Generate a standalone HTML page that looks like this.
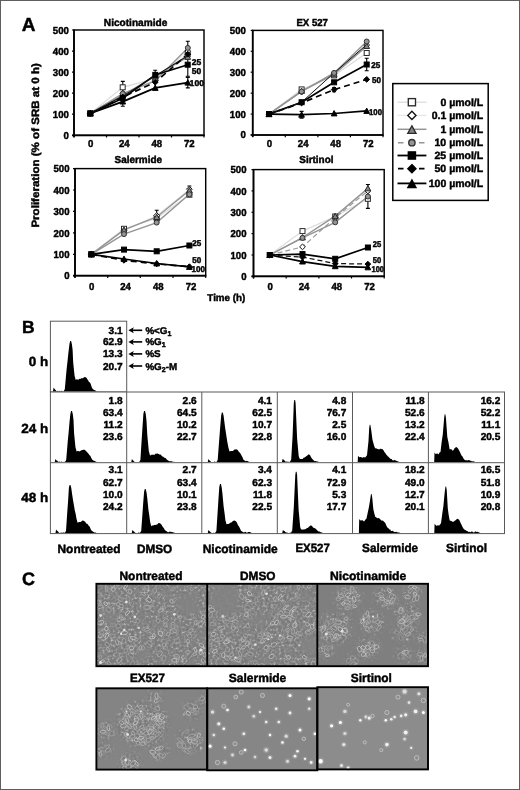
<!DOCTYPE html>
<html lang="en"><head><meta charset="utf-8"><title>Figure</title>
<style>html,body{margin:0;padding:0;background:#fff}svg{display:block}</style></head>
<body>
<svg width="520" height="790" viewBox="0 0 520 790" font-family="Liberation Sans, Arial, sans-serif" font-weight="bold" text-rendering="geometricPrecision" fill="#000">
<rect x="0" y="0" width="520" height="790" fill="#fff"/>
<rect x="74.0" y="30.0" width="130.0" height="105.3" fill="#fff" stroke="#000" stroke-width="1.45"/>
<line x1="74.0" y1="29.5" x2="74.0" y2="137.3" stroke="#000" stroke-width="1.7"/>
<line x1="72.0" y1="135.3" x2="204.5" y2="135.3" stroke="#000" stroke-width="1.7"/>
<line x1="72.0" y1="135.3" x2="74.0" y2="135.3" stroke="#000" stroke-width="1.2"/>
<text transform="translate(68.8,139.4) scale(0.95,1)" font-size="10.1" text-anchor="end" stroke="#000" stroke-width="0.45" >0</text>
<line x1="72.0" y1="114.2" x2="74.0" y2="114.2" stroke="#000" stroke-width="1.2"/>
<text transform="translate(68.8,118.3) scale(0.95,1)" font-size="10.1" text-anchor="end" stroke="#000" stroke-width="0.45" >100</text>
<line x1="72.0" y1="93.2" x2="74.0" y2="93.2" stroke="#000" stroke-width="1.2"/>
<text transform="translate(68.8,97.3) scale(0.95,1)" font-size="10.1" text-anchor="end" stroke="#000" stroke-width="0.45" >200</text>
<line x1="72.0" y1="72.1" x2="74.0" y2="72.1" stroke="#000" stroke-width="1.2"/>
<text transform="translate(68.8,76.2) scale(0.95,1)" font-size="10.1" text-anchor="end" stroke="#000" stroke-width="0.45" >300</text>
<line x1="72.0" y1="51.1" x2="74.0" y2="51.1" stroke="#000" stroke-width="1.2"/>
<text transform="translate(68.8,55.2) scale(0.95,1)" font-size="10.1" text-anchor="end" stroke="#000" stroke-width="0.45" >400</text>
<line x1="72.0" y1="30.0" x2="74.0" y2="30.0" stroke="#000" stroke-width="1.2"/>
<text transform="translate(68.8,34.1) scale(0.95,1)" font-size="10.1" text-anchor="end" stroke="#000" stroke-width="0.45" >500</text>
<line x1="74.0" y1="135.3" x2="74.0" y2="137.5" stroke="#000" stroke-width="1.2"/>
<line x1="106.5" y1="135.3" x2="106.5" y2="137.5" stroke="#000" stroke-width="1.2"/>
<line x1="139.0" y1="135.3" x2="139.0" y2="137.5" stroke="#000" stroke-width="1.2"/>
<line x1="171.5" y1="135.3" x2="171.5" y2="137.5" stroke="#000" stroke-width="1.2"/>
<line x1="204.0" y1="135.3" x2="204.0" y2="137.5" stroke="#000" stroke-width="1.2"/>
<text transform="translate(90.7,146.8) scale(0.95,1)" font-size="10.1" text-anchor="middle" stroke="#000" stroke-width="0.45" >0</text>
<text transform="translate(124.3,146.8) scale(0.95,1)" font-size="10.1" text-anchor="middle" stroke="#000" stroke-width="0.45" >24</text>
<text transform="translate(156.8,146.8) scale(0.95,1)" font-size="10.1" text-anchor="middle" stroke="#000" stroke-width="0.45" >48</text>
<text transform="translate(189.3,146.8) scale(0.95,1)" font-size="10.1" text-anchor="middle" stroke="#000" stroke-width="0.45" >72</text>
<text x="135.6" y="26.0" font-size="10.1" text-anchor="middle" textLength="63.5" lengthAdjust="spacingAndGlyphs" stroke="#000" stroke-width="0.45" >Nicotinamide</text>
<polyline points="90.2,113.4 122.8,87.3 155.2,78.4 187.8,54.2" fill="none" stroke="#dcdcdc" stroke-width="1.2"/>
<polyline points="90.2,113.4 122.8,93.2 155.2,80.1 187.8,51.1" fill="none" stroke="#e4e4e4" stroke-width="1.0"/>
<polyline points="90.2,113.4 122.8,95.3 155.2,75.9 187.8,57.0" fill="none" stroke="#949494" stroke-width="1.4"/>
<polyline points="90.2,113.4 122.8,93.6 155.2,81.0 187.8,47.9" fill="none" stroke="#949494" stroke-width="1.4"/>
<polyline points="90.2,113.4 122.8,98.2 155.2,74.9 187.8,64.7" fill="none" stroke="#000" stroke-width="1.7"/>
<polyline points="90.2,113.4 122.8,97.0 155.2,82.2 187.8,54.2" fill="none" stroke="#000" stroke-width="1.7" stroke-dasharray="6,4"/>
<polyline points="90.2,113.4 122.8,101.6 155.2,87.9 187.8,82.7" fill="none" stroke="#000" stroke-width="1.7"/>
<polyline points="90.2,113.4 122.8,96.1 155.2,75.9 187.8,55.7" fill="none" stroke="#111" stroke-width="1.1"/>
<path d="M122.8,81.4V93.2M120.8,81.4H124.8M120.8,93.2H124.8" stroke="#000" stroke-width="1.1" fill="none"/>
<path d="M122.8,97.0V106.2M120.8,97.0H124.8M120.8,106.2H124.8" stroke="#000" stroke-width="1.1" fill="none"/>
<path d="M155.2,70.2V79.5M153.2,70.2H157.2M153.2,79.5H157.2" stroke="#000" stroke-width="1.1" fill="none"/>
<path d="M187.8,41.2V54.6M185.8,41.2H189.8M185.8,54.6H189.8" stroke="#000" stroke-width="1.1" fill="none"/>
<path d="M187.8,53.2V76.3M185.8,53.2H189.8M185.8,76.3H189.8" stroke="#000" stroke-width="1.1" fill="none"/>
<path d="M187.8,77.4V87.9M185.8,77.4H189.8M185.8,87.9H189.8" stroke="#000" stroke-width="1.1" fill="none"/>
<rect x="87.8" y="110.9" width="5.0" height="5.0" fill="#ffffff" stroke="#2a2a2a" stroke-width="1.0"/>
<rect x="120.2" y="84.8" width="5.0" height="5.0" fill="#ffffff" stroke="#2a2a2a" stroke-width="1.0"/>
<rect x="152.8" y="75.9" width="5.0" height="5.0" fill="#ffffff" stroke="#2a2a2a" stroke-width="1.0"/>
<rect x="185.2" y="51.7" width="5.0" height="5.0" fill="#ffffff" stroke="#2a2a2a" stroke-width="1.0"/>
<polygon points="90.2,110.5 93.1,113.4 90.2,116.3 87.4,113.4" fill="#ffffff" stroke="#111" stroke-width="1.0"/>
<polygon points="122.8,90.3 125.6,93.2 122.8,96.1 119.9,93.2" fill="#ffffff" stroke="#111" stroke-width="1.0"/>
<polygon points="155.2,77.2 158.1,80.1 155.2,83.0 152.4,80.1" fill="#ffffff" stroke="#111" stroke-width="1.0"/>
<polygon points="187.8,48.2 190.6,51.1 187.8,53.9 184.9,51.1" fill="#ffffff" stroke="#111" stroke-width="1.0"/>
<polygon points="90.2,110.5 93.1,115.8 87.4,115.8" fill="#858585" stroke="#2a2a2a" stroke-width="1.0"/>
<polygon points="122.8,92.4 125.6,97.7 119.9,97.7" fill="#858585" stroke="#2a2a2a" stroke-width="1.0"/>
<polygon points="155.2,73.0 158.1,78.4 152.4,78.4" fill="#858585" stroke="#2a2a2a" stroke-width="1.0"/>
<polygon points="187.8,54.1 190.6,59.4 184.9,59.4" fill="#858585" stroke="#2a2a2a" stroke-width="1.0"/>
<circle cx="90.2" cy="113.4" r="2.5" fill="#949494" stroke="#333" stroke-width="1.0"/>
<circle cx="122.8" cy="93.6" r="2.5" fill="#949494" stroke="#333" stroke-width="1.0"/>
<circle cx="155.2" cy="81.0" r="2.5" fill="#949494" stroke="#333" stroke-width="1.0"/>
<circle cx="187.8" cy="47.9" r="2.5" fill="#949494" stroke="#333" stroke-width="1.0"/>
<rect x="87.8" y="110.9" width="5.0" height="5.0" fill="#000" stroke="#000" stroke-width="1.0"/>
<rect x="120.2" y="95.7" width="5.0" height="5.0" fill="#000" stroke="#000" stroke-width="1.0"/>
<rect x="152.8" y="72.4" width="5.0" height="5.0" fill="#000" stroke="#000" stroke-width="1.0"/>
<rect x="185.2" y="62.2" width="5.0" height="5.0" fill="#000" stroke="#000" stroke-width="1.0"/>
<polygon points="90.2,110.5 93.1,113.4 90.2,116.3 87.4,113.4" fill="#000" stroke="#000" stroke-width="1.0"/>
<polygon points="122.8,94.1 125.6,97.0 122.8,99.8 119.9,97.0" fill="#000" stroke="#000" stroke-width="1.0"/>
<polygon points="155.2,79.4 158.1,82.2 155.2,85.1 152.4,82.2" fill="#000" stroke="#000" stroke-width="1.0"/>
<polygon points="187.8,51.3 190.6,54.2 187.8,57.1 184.9,54.2" fill="#000" stroke="#000" stroke-width="1.0"/>
<polygon points="90.2,110.5 93.1,115.8 87.4,115.8" fill="#000" stroke="#000" stroke-width="1.0"/>
<polygon points="122.8,98.7 125.6,104.0 119.9,104.0" fill="#000" stroke="#000" stroke-width="1.0"/>
<polygon points="155.2,85.0 158.1,90.4 152.4,90.4" fill="#000" stroke="#000" stroke-width="1.0"/>
<polygon points="187.8,79.8 190.6,85.1 184.9,85.1" fill="#000" stroke="#000" stroke-width="1.0"/>
<text x="191.8" y="64.5" font-size="8.4" text-anchor="start" textLength="9.5" lengthAdjust="spacingAndGlyphs" stroke="#000" stroke-width="0.45" >25</text>
<text x="191.8" y="73.8" font-size="8.4" text-anchor="start" textLength="9.5" lengthAdjust="spacingAndGlyphs" stroke="#000" stroke-width="0.45" >50</text>
<text x="189.6" y="86.0" font-size="8.4" text-anchor="start" textLength="14.5" lengthAdjust="spacingAndGlyphs" stroke="#000" stroke-width="0.45" >100</text>
<rect x="252.7" y="30.4" width="130.3" height="104.6" fill="#fff" stroke="#000" stroke-width="1.45"/>
<line x1="252.7" y1="29.9" x2="252.7" y2="137.0" stroke="#000" stroke-width="1.7"/>
<line x1="250.7" y1="135.0" x2="383.5" y2="135.0" stroke="#000" stroke-width="1.7"/>
<line x1="250.7" y1="135.0" x2="252.7" y2="135.0" stroke="#000" stroke-width="1.2"/>
<text transform="translate(245.8,138.4) scale(0.95,1)" font-size="10.1" text-anchor="end" stroke="#000" stroke-width="0.45" >0</text>
<line x1="250.7" y1="114.1" x2="252.7" y2="114.1" stroke="#000" stroke-width="1.2"/>
<text transform="translate(245.8,117.5) scale(0.95,1)" font-size="10.1" text-anchor="end" stroke="#000" stroke-width="0.45" >100</text>
<line x1="250.7" y1="93.2" x2="252.7" y2="93.2" stroke="#000" stroke-width="1.2"/>
<text transform="translate(245.8,96.6) scale(0.95,1)" font-size="10.1" text-anchor="end" stroke="#000" stroke-width="0.45" >200</text>
<line x1="250.7" y1="72.2" x2="252.7" y2="72.2" stroke="#000" stroke-width="1.2"/>
<text transform="translate(245.8,75.6) scale(0.95,1)" font-size="10.1" text-anchor="end" stroke="#000" stroke-width="0.45" >300</text>
<line x1="250.7" y1="51.3" x2="252.7" y2="51.3" stroke="#000" stroke-width="1.2"/>
<text transform="translate(245.8,54.7) scale(0.95,1)" font-size="10.1" text-anchor="end" stroke="#000" stroke-width="0.45" >400</text>
<line x1="250.7" y1="30.4" x2="252.7" y2="30.4" stroke="#000" stroke-width="1.2"/>
<text transform="translate(245.8,33.8) scale(0.95,1)" font-size="10.1" text-anchor="end" stroke="#000" stroke-width="0.45" >500</text>
<line x1="252.7" y1="135.0" x2="252.7" y2="137.2" stroke="#000" stroke-width="1.2"/>
<line x1="285.3" y1="135.0" x2="285.3" y2="137.2" stroke="#000" stroke-width="1.2"/>
<line x1="317.9" y1="135.0" x2="317.9" y2="137.2" stroke="#000" stroke-width="1.2"/>
<line x1="350.4" y1="135.0" x2="350.4" y2="137.2" stroke="#000" stroke-width="1.2"/>
<line x1="383.0" y1="135.0" x2="383.0" y2="137.2" stroke="#000" stroke-width="1.2"/>
<text transform="translate(269.4,146.8) scale(0.95,1)" font-size="10.1" text-anchor="middle" stroke="#000" stroke-width="0.45" >0</text>
<text transform="translate(303.2,146.8) scale(0.95,1)" font-size="10.1" text-anchor="middle" stroke="#000" stroke-width="0.45" >24</text>
<text transform="translate(335.7,146.8) scale(0.95,1)" font-size="10.1" text-anchor="middle" stroke="#000" stroke-width="0.45" >48</text>
<text transform="translate(368.3,146.8) scale(0.95,1)" font-size="10.1" text-anchor="middle" stroke="#000" stroke-width="0.45" >72</text>
<text x="312.2" y="26.3" font-size="10.1" text-anchor="middle" textLength="31.5" lengthAdjust="spacingAndGlyphs" stroke="#000" stroke-width="0.45" >EX 527</text>
<polyline points="269.0,114.1 301.6,89.4 334.1,75.4 366.7,53.0" fill="none" stroke="#dcdcdc" stroke-width="1.2"/>
<polyline points="269.0,114.1 301.6,92.1 334.1,73.3 366.7,45.0" fill="none" stroke="#e4e4e4" stroke-width="1.0"/>
<polyline points="269.0,114.1 301.6,91.1 334.1,74.3 366.7,46.1" fill="none" stroke="#949494" stroke-width="1.4"/>
<polyline points="269.0,114.1 301.6,91.5 334.1,72.9 366.7,41.5" fill="none" stroke="#949494" stroke-width="1.4"/>
<polyline points="269.0,114.1 301.6,102.2 334.1,82.3 366.7,64.5" fill="none" stroke="#000" stroke-width="1.7"/>
<polyline points="269.0,114.1 301.6,103.0 334.1,89.6 366.7,79.4" fill="none" stroke="#000" stroke-width="1.7" stroke-dasharray="6,4"/>
<polyline points="269.0,114.1 301.6,114.7 334.1,113.5 366.7,110.9" fill="none" stroke="#000" stroke-width="1.7"/>
<polyline points="269.0,114.1 301.6,102.2 334.1,72.9 366.7,44.6" fill="none" stroke="#111" stroke-width="1.0"/>
<path d="M366.7,58.2V70.8M364.7,58.2H368.7M364.7,70.8H368.7" stroke="#000" stroke-width="1.1" fill="none"/>
<path d="M301.6,111.4V118.1M299.6,111.4H303.6M299.6,118.1H303.6" stroke="#000" stroke-width="1.1" fill="none"/>
<path d="M334.1,87.5V91.7M332.1,87.5H336.1M332.1,91.7H336.1" stroke="#000" stroke-width="1.1" fill="none"/>
<rect x="266.5" y="111.6" width="5.0" height="5.0" fill="#ffffff" stroke="#2a2a2a" stroke-width="1.0"/>
<rect x="299.1" y="86.9" width="5.0" height="5.0" fill="#ffffff" stroke="#2a2a2a" stroke-width="1.0"/>
<rect x="331.6" y="72.9" width="5.0" height="5.0" fill="#ffffff" stroke="#2a2a2a" stroke-width="1.0"/>
<rect x="364.2" y="50.5" width="5.0" height="5.0" fill="#ffffff" stroke="#2a2a2a" stroke-width="1.0"/>
<polygon points="269.0,111.2 271.9,114.1 269.0,117.0 266.1,114.1" fill="#ffffff" stroke="#111" stroke-width="1.0"/>
<polygon points="301.6,89.2 304.4,92.1 301.6,95.0 298.7,92.1" fill="#ffffff" stroke="#111" stroke-width="1.0"/>
<polygon points="334.1,70.4 337.0,73.3 334.1,76.2 331.3,73.3" fill="#ffffff" stroke="#111" stroke-width="1.0"/>
<polygon points="366.7,42.2 369.6,45.0 366.7,47.9 363.8,45.0" fill="#ffffff" stroke="#111" stroke-width="1.0"/>
<polygon points="269.0,111.2 271.9,116.5 266.1,116.5" fill="#858585" stroke="#2a2a2a" stroke-width="1.0"/>
<polygon points="301.6,88.2 304.4,93.5 298.7,93.5" fill="#858585" stroke="#2a2a2a" stroke-width="1.0"/>
<polygon points="334.1,71.5 337.0,76.8 331.3,76.8" fill="#858585" stroke="#2a2a2a" stroke-width="1.0"/>
<polygon points="366.7,43.2 369.6,48.5 363.8,48.5" fill="#858585" stroke="#2a2a2a" stroke-width="1.0"/>
<circle cx="269.0" cy="114.1" r="2.5" fill="#949494" stroke="#333" stroke-width="1.0"/>
<circle cx="301.6" cy="91.5" r="2.5" fill="#949494" stroke="#333" stroke-width="1.0"/>
<circle cx="334.1" cy="72.9" r="2.5" fill="#949494" stroke="#333" stroke-width="1.0"/>
<circle cx="366.7" cy="41.5" r="2.5" fill="#949494" stroke="#333" stroke-width="1.0"/>
<rect x="266.5" y="111.6" width="5.0" height="5.0" fill="#000" stroke="#000" stroke-width="1.0"/>
<rect x="299.1" y="99.7" width="5.0" height="5.0" fill="#000" stroke="#000" stroke-width="1.0"/>
<rect x="331.6" y="79.8" width="5.0" height="5.0" fill="#000" stroke="#000" stroke-width="1.0"/>
<rect x="364.2" y="62.0" width="5.0" height="5.0" fill="#000" stroke="#000" stroke-width="1.0"/>
<polygon points="269.0,111.2 271.9,114.1 269.0,117.0 266.1,114.1" fill="#000" stroke="#000" stroke-width="1.0"/>
<polygon points="301.6,100.1 304.4,103.0 301.6,105.9 298.7,103.0" fill="#000" stroke="#000" stroke-width="1.0"/>
<polygon points="334.1,86.7 337.0,89.6 334.1,92.5 331.3,89.6" fill="#000" stroke="#000" stroke-width="1.0"/>
<polygon points="366.7,76.5 369.6,79.4 366.7,82.2 363.8,79.4" fill="#000" stroke="#000" stroke-width="1.0"/>
<polygon points="269.0,111.2 271.9,116.5 266.1,116.5" fill="#000" stroke="#000" stroke-width="1.0"/>
<polygon points="301.6,111.8 304.4,117.2 298.7,117.2" fill="#000" stroke="#000" stroke-width="1.0"/>
<polygon points="334.1,110.6 337.0,115.9 331.3,115.9" fill="#000" stroke="#000" stroke-width="1.0"/>
<polygon points="366.7,108.1 369.6,113.4 363.8,113.4" fill="#000" stroke="#000" stroke-width="1.0"/>
<text x="371.3" y="67.8" font-size="8.4" text-anchor="start" textLength="9.0" lengthAdjust="spacingAndGlyphs" stroke="#000" stroke-width="0.45" >25</text>
<text x="372.0" y="83.0" font-size="8.4" text-anchor="start" textLength="9.0" lengthAdjust="spacingAndGlyphs" stroke="#000" stroke-width="0.45" >50</text>
<text x="369.0" y="115.4" font-size="8.4" text-anchor="start" textLength="13.0" lengthAdjust="spacingAndGlyphs" stroke="#000" stroke-width="0.45" >100</text>
<rect x="75.0" y="168.6" width="130.7" height="107.1" fill="#fff" stroke="#000" stroke-width="1.45"/>
<line x1="75.0" y1="168.1" x2="75.0" y2="277.7" stroke="#000" stroke-width="1.7"/>
<line x1="73.0" y1="275.7" x2="206.2" y2="275.7" stroke="#000" stroke-width="1.7"/>
<line x1="73.0" y1="275.7" x2="75.0" y2="275.7" stroke="#000" stroke-width="1.2"/>
<text transform="translate(69.5,279.3) scale(0.95,1)" font-size="10.1" text-anchor="end" stroke="#000" stroke-width="0.45" >0</text>
<line x1="73.0" y1="254.3" x2="75.0" y2="254.3" stroke="#000" stroke-width="1.2"/>
<text transform="translate(69.5,257.9) scale(0.95,1)" font-size="10.1" text-anchor="end" stroke="#000" stroke-width="0.45" >100</text>
<line x1="73.0" y1="232.9" x2="75.0" y2="232.9" stroke="#000" stroke-width="1.2"/>
<text transform="translate(69.5,236.5) scale(0.95,1)" font-size="10.1" text-anchor="end" stroke="#000" stroke-width="0.45" >200</text>
<line x1="73.0" y1="211.4" x2="75.0" y2="211.4" stroke="#000" stroke-width="1.2"/>
<text transform="translate(69.5,215.0) scale(0.95,1)" font-size="10.1" text-anchor="end" stroke="#000" stroke-width="0.45" >300</text>
<line x1="73.0" y1="190.0" x2="75.0" y2="190.0" stroke="#000" stroke-width="1.2"/>
<text transform="translate(69.5,193.6) scale(0.95,1)" font-size="10.1" text-anchor="end" stroke="#000" stroke-width="0.45" >400</text>
<line x1="73.0" y1="168.6" x2="75.0" y2="168.6" stroke="#000" stroke-width="1.2"/>
<text transform="translate(69.5,172.2) scale(0.95,1)" font-size="10.1" text-anchor="end" stroke="#000" stroke-width="0.45" >500</text>
<line x1="75.0" y1="275.7" x2="75.0" y2="277.9" stroke="#000" stroke-width="1.2"/>
<line x1="107.7" y1="275.7" x2="107.7" y2="277.9" stroke="#000" stroke-width="1.2"/>
<line x1="140.3" y1="275.7" x2="140.3" y2="277.9" stroke="#000" stroke-width="1.2"/>
<line x1="173.0" y1="275.7" x2="173.0" y2="277.9" stroke="#000" stroke-width="1.2"/>
<line x1="205.7" y1="275.7" x2="205.7" y2="277.9" stroke="#000" stroke-width="1.2"/>
<text transform="translate(91.7,289.6) scale(0.95,1)" font-size="10.1" text-anchor="middle" stroke="#000" stroke-width="0.45" >0</text>
<text transform="translate(125.6,289.6) scale(0.95,1)" font-size="10.1" text-anchor="middle" stroke="#000" stroke-width="0.45" >24</text>
<text transform="translate(158.3,289.6) scale(0.95,1)" font-size="10.1" text-anchor="middle" stroke="#000" stroke-width="0.45" >48</text>
<text transform="translate(191.0,289.6) scale(0.95,1)" font-size="10.1" text-anchor="middle" stroke="#000" stroke-width="0.45" >72</text>
<text x="138.3" y="163.3" font-size="10.1" text-anchor="middle" textLength="47.5" lengthAdjust="spacingAndGlyphs" stroke="#000" stroke-width="0.45" >Salermide</text>
<polyline points="91.3,254.3 124.0,228.8 156.7,218.3 189.4,194.7" fill="none" stroke="#dcdcdc" stroke-width="1.2"/>
<polyline points="91.3,254.3 124.0,230.7 156.7,215.5 189.4,189.2" fill="none" stroke="#e4e4e4" stroke-width="1.0"/>
<polyline points="91.3,254.3 124.0,229.9 156.7,217.0 189.4,190.4" fill="none" stroke="#949494" stroke-width="1.4"/>
<polyline points="91.3,254.3 124.0,234.1 156.7,222.6 189.4,194.3" fill="none" stroke="#949494" stroke-width="1.4"/>
<polyline points="91.3,254.3 124.0,249.6 156.7,251.3 189.4,245.5" fill="none" stroke="#000" stroke-width="1.7"/>
<polyline points="91.3,254.3 124.0,260.3 156.7,263.9 189.4,266.7" fill="none" stroke="#000" stroke-width="1.7" stroke-dasharray="6,4"/>
<polyline points="91.3,254.3 124.0,259.0 156.7,263.5 189.4,266.9" fill="none" stroke="#000" stroke-width="1.7"/>
<path d="M156.7,210.2V220.9M154.7,210.2H158.7M154.7,220.9H158.7" stroke="#000" stroke-width="1.1" fill="none"/>
<path d="M189.4,186.0V192.4M187.4,186.0H191.4M187.4,192.4H191.4" stroke="#000" stroke-width="1.1" fill="none"/>
<rect x="88.8" y="251.8" width="5.0" height="5.0" fill="#ffffff" stroke="#2a2a2a" stroke-width="1.0"/>
<rect x="121.5" y="226.3" width="5.0" height="5.0" fill="#ffffff" stroke="#2a2a2a" stroke-width="1.0"/>
<rect x="154.2" y="215.8" width="5.0" height="5.0" fill="#ffffff" stroke="#2a2a2a" stroke-width="1.0"/>
<rect x="186.9" y="192.2" width="5.0" height="5.0" fill="#ffffff" stroke="#2a2a2a" stroke-width="1.0"/>
<polygon points="91.3,251.4 94.2,254.3 91.3,257.2 88.5,254.3" fill="#ffffff" stroke="#111" stroke-width="1.0"/>
<polygon points="124.0,227.8 126.9,230.7 124.0,233.6 121.1,230.7" fill="#ffffff" stroke="#111" stroke-width="1.0"/>
<polygon points="156.7,212.6 159.6,215.5 156.7,218.4 153.8,215.5" fill="#ffffff" stroke="#111" stroke-width="1.0"/>
<polygon points="189.4,186.3 192.2,189.2 189.4,192.0 186.5,189.2" fill="#ffffff" stroke="#111" stroke-width="1.0"/>
<polygon points="91.3,251.4 94.2,256.7 88.5,256.7" fill="#858585" stroke="#2a2a2a" stroke-width="1.0"/>
<polygon points="124.0,227.0 126.9,232.3 121.1,232.3" fill="#858585" stroke="#2a2a2a" stroke-width="1.0"/>
<polygon points="156.7,214.1 159.6,219.5 153.8,219.5" fill="#858585" stroke="#2a2a2a" stroke-width="1.0"/>
<polygon points="189.4,187.6 192.2,192.9 186.5,192.9" fill="#858585" stroke="#2a2a2a" stroke-width="1.0"/>
<circle cx="91.3" cy="254.3" r="2.5" fill="#949494" stroke="#333" stroke-width="1.0"/>
<circle cx="124.0" cy="234.1" r="2.5" fill="#949494" stroke="#333" stroke-width="1.0"/>
<circle cx="156.7" cy="222.6" r="2.5" fill="#949494" stroke="#333" stroke-width="1.0"/>
<circle cx="189.4" cy="194.3" r="2.5" fill="#949494" stroke="#333" stroke-width="1.0"/>
<rect x="88.8" y="251.8" width="5.0" height="5.0" fill="#000" stroke="#000" stroke-width="1.0"/>
<rect x="121.5" y="247.1" width="5.0" height="5.0" fill="#000" stroke="#000" stroke-width="1.0"/>
<rect x="154.2" y="248.8" width="5.0" height="5.0" fill="#000" stroke="#000" stroke-width="1.0"/>
<rect x="186.9" y="243.0" width="5.0" height="5.0" fill="#000" stroke="#000" stroke-width="1.0"/>
<polygon points="91.3,251.4 94.2,254.3 91.3,257.2 88.5,254.3" fill="#000" stroke="#000" stroke-width="1.0"/>
<polygon points="124.0,257.4 126.9,260.3 124.0,263.2 121.1,260.3" fill="#000" stroke="#000" stroke-width="1.0"/>
<polygon points="156.7,261.0 159.6,263.9 156.7,266.8 153.8,263.9" fill="#000" stroke="#000" stroke-width="1.0"/>
<polygon points="189.4,263.8 192.2,266.7 189.4,269.6 186.5,266.7" fill="#000" stroke="#000" stroke-width="1.0"/>
<polygon points="91.3,251.4 94.2,256.7 88.5,256.7" fill="#000" stroke="#000" stroke-width="1.0"/>
<polygon points="124.0,256.1 126.9,261.4 121.1,261.4" fill="#000" stroke="#000" stroke-width="1.0"/>
<polygon points="156.7,260.6 159.6,265.9 153.8,265.9" fill="#000" stroke="#000" stroke-width="1.0"/>
<polygon points="189.4,264.0 192.2,269.4 186.5,269.4" fill="#000" stroke="#000" stroke-width="1.0"/>
<text x="192.3" y="245.6" font-size="8.4" text-anchor="start" textLength="9.0" lengthAdjust="spacingAndGlyphs" stroke="#000" stroke-width="0.45" >25</text>
<text x="192.3" y="263.4" font-size="8.4" text-anchor="start" textLength="9.0" lengthAdjust="spacingAndGlyphs" stroke="#000" stroke-width="0.45" >50</text>
<text x="191.6" y="272.0" font-size="8.4" text-anchor="start" textLength="13.5" lengthAdjust="spacingAndGlyphs" stroke="#000" stroke-width="0.45" >100</text>
<rect x="253.5" y="169.6" width="130.7" height="106.7" fill="#fff" stroke="#000" stroke-width="1.45"/>
<line x1="253.5" y1="169.1" x2="253.5" y2="278.3" stroke="#000" stroke-width="1.7"/>
<line x1="251.5" y1="276.3" x2="384.7" y2="276.3" stroke="#000" stroke-width="1.7"/>
<line x1="251.5" y1="276.3" x2="253.5" y2="276.3" stroke="#000" stroke-width="1.2"/>
<text transform="translate(246.5,279.9) scale(0.95,1)" font-size="10.1" text-anchor="end" stroke="#000" stroke-width="0.45" >0</text>
<line x1="251.5" y1="255.0" x2="253.5" y2="255.0" stroke="#000" stroke-width="1.2"/>
<text transform="translate(246.5,258.6) scale(0.95,1)" font-size="10.1" text-anchor="end" stroke="#000" stroke-width="0.45" >100</text>
<line x1="251.5" y1="233.6" x2="253.5" y2="233.6" stroke="#000" stroke-width="1.2"/>
<text transform="translate(246.5,237.2) scale(0.95,1)" font-size="10.1" text-anchor="end" stroke="#000" stroke-width="0.45" >200</text>
<line x1="251.5" y1="212.3" x2="253.5" y2="212.3" stroke="#000" stroke-width="1.2"/>
<text transform="translate(246.5,215.9) scale(0.95,1)" font-size="10.1" text-anchor="end" stroke="#000" stroke-width="0.45" >300</text>
<line x1="251.5" y1="190.9" x2="253.5" y2="190.9" stroke="#000" stroke-width="1.2"/>
<text transform="translate(246.5,194.5) scale(0.95,1)" font-size="10.1" text-anchor="end" stroke="#000" stroke-width="0.45" >400</text>
<line x1="251.5" y1="169.6" x2="253.5" y2="169.6" stroke="#000" stroke-width="1.2"/>
<text transform="translate(246.5,173.2) scale(0.95,1)" font-size="10.1" text-anchor="end" stroke="#000" stroke-width="0.45" >500</text>
<line x1="253.5" y1="276.3" x2="253.5" y2="278.5" stroke="#000" stroke-width="1.2"/>
<line x1="286.2" y1="276.3" x2="286.2" y2="278.5" stroke="#000" stroke-width="1.2"/>
<line x1="318.9" y1="276.3" x2="318.9" y2="278.5" stroke="#000" stroke-width="1.2"/>
<line x1="351.5" y1="276.3" x2="351.5" y2="278.5" stroke="#000" stroke-width="1.2"/>
<line x1="384.2" y1="276.3" x2="384.2" y2="278.5" stroke="#000" stroke-width="1.2"/>
<text transform="translate(270.2,289.6) scale(0.95,1)" font-size="10.1" text-anchor="middle" stroke="#000" stroke-width="0.45" >0</text>
<text transform="translate(304.1,289.6) scale(0.95,1)" font-size="10.1" text-anchor="middle" stroke="#000" stroke-width="0.45" >24</text>
<text transform="translate(336.8,289.6) scale(0.95,1)" font-size="10.1" text-anchor="middle" stroke="#000" stroke-width="0.45" >48</text>
<text transform="translate(369.5,289.6) scale(0.95,1)" font-size="10.1" text-anchor="middle" stroke="#000" stroke-width="0.45" >72</text>
<text x="316.4" y="163.0" font-size="10.1" text-anchor="middle" textLength="34.3" lengthAdjust="spacingAndGlyphs" stroke="#000" stroke-width="0.45" >Sirtinol</text>
<polyline points="269.8,255.0 302.5,231.1 335.2,216.5 367.9,198.8" fill="none" stroke="#dcdcdc" stroke-width="1.2"/>
<polyline points="269.8,255.0 302.5,246.9 335.2,217.6 367.9,190.9" fill="none" stroke="#9a9a9a" stroke-width="1.2" stroke-dasharray="5,3"/>
<polyline points="269.8,255.0 302.5,237.5 335.2,216.1 367.9,188.4" fill="none" stroke="#949494" stroke-width="1.4"/>
<polyline points="269.8,255.0 302.5,237.9 335.2,222.3 367.9,196.5" fill="none" stroke="#949494" stroke-width="1.4"/>
<polyline points="269.8,255.0 302.5,254.1 335.2,258.8 367.9,247.5" fill="none" stroke="#000" stroke-width="1.7"/>
<polyline points="269.8,255.0 302.5,257.1 335.2,263.5 367.9,264.1" fill="none" stroke="#111" stroke-width="1.25" stroke-dasharray="5,3"/>
<polyline points="269.8,255.0 302.5,261.6 335.2,266.3 367.9,267.3" fill="none" stroke="#000" stroke-width="1.7"/>
<path d="M367.9,189.2V208.4M365.9,189.2H369.9M365.9,208.4H369.9" stroke="#000" stroke-width="1.1" fill="none"/>
<path d="M367.9,184.5V192.2M365.9,184.5H369.9M365.9,192.2H369.9" stroke="#000" stroke-width="1.1" fill="none"/>
<rect x="267.3" y="252.5" width="5.0" height="5.0" fill="#ffffff" stroke="#2a2a2a" stroke-width="1.0"/>
<rect x="300.0" y="228.6" width="5.0" height="5.0" fill="#ffffff" stroke="#2a2a2a" stroke-width="1.0"/>
<rect x="332.7" y="214.0" width="5.0" height="5.0" fill="#ffffff" stroke="#2a2a2a" stroke-width="1.0"/>
<rect x="365.4" y="196.3" width="5.0" height="5.0" fill="#ffffff" stroke="#2a2a2a" stroke-width="1.0"/>
<polygon points="269.8,252.1 272.7,255.0 269.8,257.8 267.0,255.0" fill="#ffffff" stroke="#111" stroke-width="1.0"/>
<polygon points="302.5,244.0 305.4,246.9 302.5,249.7 299.6,246.9" fill="#ffffff" stroke="#111" stroke-width="1.0"/>
<polygon points="335.2,214.7 338.1,217.6 335.2,220.5 332.3,217.6" fill="#ffffff" stroke="#111" stroke-width="1.0"/>
<polygon points="367.9,188.1 370.7,190.9 367.9,193.8 365.0,190.9" fill="#ffffff" stroke="#111" stroke-width="1.0"/>
<polygon points="269.8,252.1 272.7,257.4 267.0,257.4" fill="#858585" stroke="#2a2a2a" stroke-width="1.0"/>
<polygon points="302.5,234.6 305.4,239.9 299.6,239.9" fill="#858585" stroke="#2a2a2a" stroke-width="1.0"/>
<polygon points="335.2,213.2 338.1,218.6 332.3,218.6" fill="#858585" stroke="#2a2a2a" stroke-width="1.0"/>
<polygon points="367.9,185.5 370.7,190.8 365.0,190.8" fill="#858585" stroke="#2a2a2a" stroke-width="1.0"/>
<circle cx="269.8" cy="255.0" r="2.5" fill="#949494" stroke="#333" stroke-width="1.0"/>
<circle cx="302.5" cy="237.9" r="2.5" fill="#949494" stroke="#333" stroke-width="1.0"/>
<circle cx="335.2" cy="222.3" r="2.5" fill="#949494" stroke="#333" stroke-width="1.0"/>
<circle cx="367.9" cy="196.5" r="2.5" fill="#949494" stroke="#333" stroke-width="1.0"/>
<rect x="267.3" y="252.5" width="5.0" height="5.0" fill="#000" stroke="#000" stroke-width="1.0"/>
<rect x="300.0" y="251.6" width="5.0" height="5.0" fill="#000" stroke="#000" stroke-width="1.0"/>
<rect x="332.7" y="256.3" width="5.0" height="5.0" fill="#000" stroke="#000" stroke-width="1.0"/>
<rect x="365.4" y="245.0" width="5.0" height="5.0" fill="#000" stroke="#000" stroke-width="1.0"/>
<polygon points="269.8,252.1 272.7,255.0 269.8,257.8 267.0,255.0" fill="#000" stroke="#000" stroke-width="1.0"/>
<polygon points="302.5,254.2 305.4,257.1 302.5,260.0 299.6,257.1" fill="#000" stroke="#000" stroke-width="1.0"/>
<polygon points="335.2,260.6 338.1,263.5 335.2,266.4 332.3,263.5" fill="#000" stroke="#000" stroke-width="1.0"/>
<polygon points="367.9,261.3 370.7,264.1 367.9,267.0 365.0,264.1" fill="#000" stroke="#000" stroke-width="1.0"/>
<polygon points="269.8,252.1 272.7,257.4 267.0,257.4" fill="#000" stroke="#000" stroke-width="1.0"/>
<polygon points="302.5,258.7 305.4,264.0 299.6,264.0" fill="#000" stroke="#000" stroke-width="1.0"/>
<polygon points="335.2,263.4 338.1,268.7 332.3,268.7" fill="#000" stroke="#000" stroke-width="1.0"/>
<polygon points="367.9,264.5 370.7,269.8 365.0,269.8" fill="#000" stroke="#000" stroke-width="1.0"/>
<text x="372.7" y="246.5" font-size="8.4" text-anchor="start" textLength="8.5" lengthAdjust="spacingAndGlyphs" stroke="#000" stroke-width="0.45" >25</text>
<text x="372.7" y="263.4" font-size="8.4" text-anchor="start" textLength="8.5" lengthAdjust="spacingAndGlyphs" stroke="#000" stroke-width="0.45" >50</text>
<text x="371.5" y="271.5" font-size="8.4" text-anchor="start" textLength="12.5" lengthAdjust="spacingAndGlyphs" stroke="#000" stroke-width="0.45" >100</text>
<text transform="translate(39.3,227.6) rotate(-90)" font-size="10.6" textLength="164.5" lengthAdjust="spacingAndGlyphs" stroke="#000" stroke-width="0.45">Proliferation (% of SRB at 0 h)</text>
<text x="207.3" y="301.0" font-size="10" text-anchor="start" textLength="38.1" lengthAdjust="spacingAndGlyphs" stroke="#000" stroke-width="0.45" >Time (h)</text>
<text x="21.7" y="31.2" font-size="19" text-anchor="start" stroke="#000" stroke-width="0.45" >A</text>
<text x="22.0" y="333.0" font-size="17.5" text-anchor="start" stroke="#000" stroke-width="0.45" >B</text>
<text x="22.0" y="585.0" font-size="18" text-anchor="start" stroke="#000" stroke-width="0.45" >C</text>
<rect x="392.8" y="83.6" width="95.4" height="116.8" fill="#fff" stroke="#000" stroke-width="1.5"/>
<line x1="397.5" y1="102.2" x2="426.4" y2="102.2" stroke="#dcdcdc" stroke-width="1.3"/>
<rect x="408.3" y="98.6" width="7.2" height="7.2" fill="#ffffff" stroke="#2a2a2a" stroke-width="1.35"/>
<text x="483.2" y="105.9" font-size="10.5" text-anchor="end" stroke="#000" stroke-width="0.45" >0 µmol/L</text>
<line x1="397.5" y1="115.4" x2="426.4" y2="115.4" stroke="#e4e4e4" stroke-width="1.1"/>
<polygon points="411.9,111.3 416.0,115.4 411.9,119.5 407.8,115.4" fill="#ffffff" stroke="#111" stroke-width="1.35"/>
<text x="483.2" y="119.1" font-size="10.5" text-anchor="end" stroke="#000" stroke-width="0.45" >0.1 µmol/L</text>
<line x1="397.5" y1="129.3" x2="426.4" y2="129.3" stroke="#949494" stroke-width="1.5"/>
<polygon points="411.9,125.8 416.0,133.4 407.8,133.4" fill="#858585" stroke="#2a2a2a" stroke-width="1.35"/>
<text x="483.2" y="133.0" font-size="10.5" text-anchor="end" stroke="#000" stroke-width="0.45" >1 µmol/L</text>
<path d="M398,142.7H403.5M419,142.7H424.5" stroke="#949494" stroke-width="1.5"/>
<circle cx="411.9" cy="142.7" r="3.2" fill="#949494" stroke="#333" stroke-width="1.35"/>
<text x="483.2" y="146.4" font-size="10.5" text-anchor="end" stroke="#000" stroke-width="0.45" >10 µmol/L</text>
<line x1="397.5" y1="155.5" x2="426.4" y2="155.5" stroke="#000" stroke-width="1.8"/>
<rect x="408.3" y="151.9" width="7.2" height="7.2" fill="#000" stroke="#000" stroke-width="1.35"/>
<text x="483.2" y="159.2" font-size="10.5" text-anchor="end" stroke="#000" stroke-width="0.45" >25 µmol/L</text>
<path d="M398,168.7H403.5M419,168.7H424.5" stroke="#000" stroke-width="1.8"/>
<polygon points="411.9,164.6 416.0,168.7 411.9,172.8 407.8,168.7" fill="#000" stroke="#000" stroke-width="1.35"/>
<text x="483.2" y="172.4" font-size="10.5" text-anchor="end" stroke="#000" stroke-width="0.45" >50 µmol/L</text>
<line x1="397.5" y1="183.4" x2="426.4" y2="183.4" stroke="#000" stroke-width="1.8"/>
<polygon points="411.9,179.9 416.0,187.5 407.8,187.5" fill="#000" stroke="#000" stroke-width="1.35"/>
<text x="483.2" y="187.1" font-size="10.5" text-anchor="end" stroke="#000" stroke-width="0.45" >100 µmol/L</text>
<rect x="50.4" y="321.2" width="76.3" height="70.8" fill="#fff" stroke="#5a5a5a" stroke-width="1"/>
<rect x="50.4" y="392.0" width="454.1" height="141.6" fill="#fff" stroke="#5a5a5a" stroke-width="1"/>
<line x1="50.4" y1="462.7" x2="504.5" y2="462.7" stroke="#5a5a5a" stroke-width="1"/>
<line x1="126.7" y1="392.0" x2="126.7" y2="533.6" stroke="#5a5a5a" stroke-width="1"/>
<line x1="201.8" y1="392.0" x2="201.8" y2="533.6" stroke="#5a5a5a" stroke-width="1"/>
<line x1="277.3" y1="392.0" x2="277.3" y2="533.6" stroke="#5a5a5a" stroke-width="1"/>
<line x1="352.5" y1="392.0" x2="352.5" y2="533.6" stroke="#5a5a5a" stroke-width="1"/>
<line x1="428.4" y1="392.0" x2="428.4" y2="533.6" stroke="#5a5a5a" stroke-width="1"/>
<polygon points="53.0,391.3 53.0,391.3 53.6,387.6 54.8,389.3 55.6,390.0 56.4,391.2 57.3,390.8 58.2,391.3 59.1,390.7 60.0,391.2 60.9,391.0 61.8,390.7 62.7,391.2 63.6,391.2 64.8,389.3 65.7,379.2 66.5,370.3 67.5,361.3 68.5,352.0 69.5,343.7 70.2,340.9 71.1,340.9 71.9,344.2 72.6,349.7 73.2,362.5 74.6,376.0 75.7,380.0 76.6,379.3 77.5,379.5 78.4,379.8 79.3,378.7 80.2,379.0 81.2,378.2 82.1,378.3 83.0,378.3 84.0,377.3 85.0,377.0 86.5,377.8 87.3,379.2 88.2,380.2 89.0,382.2 89.9,382.3 90.7,384.1 91.7,387.1 92.7,389.1 94.2,390.1 95.1,390.3 96.0,391.0 97.0,391.3 97.0,391.3" fill="#000"/>
<polygon points="54.8,462.0 54.8,462.0 55.4,459.0 56.6,460.4 57.4,460.7 58.2,461.9 59.1,461.4 59.9,461.7 60.8,462.0 61.6,461.5 62.5,462.0 63.3,462.0 64.2,461.7 65.0,461.9 66.2,460.0 67.8,440.7 68.7,431.7 69.5,422.2 70.4,413.7 71.1,410.9 72.0,410.9 72.8,414.2 73.5,420.1 74.1,433.4 75.5,447.5 76.6,451.5 77.5,450.9 78.4,450.9 79.3,451.4 80.2,451.1 81.1,450.6 82.0,450.1 83.0,449.9 84.0,449.6 85.5,450.4 86.5,451.6 87.4,452.5 88.4,453.4 89.3,455.1 90.3,455.8 91.3,458.0 92.3,459.8 93.8,460.8 94.9,460.9 96.0,461.7 97.0,462.0 97.0,462.0" fill="#000"/>
<polygon points="131.3,462.0 131.3,462.0 131.9,459.0 133.1,460.4 134.7,461.9 135.6,462.0 136.5,461.9 137.4,462.0 138.3,462.0 139.2,461.9 140.4,460.0 141.6,440.7 142.5,426.9 143.4,413.7 144.1,410.9 145.0,410.9 145.8,414.2 146.5,420.8 147.3,435.3 148.8,451.0 149.9,455.0 150.8,455.5 151.8,454.4 152.7,454.7 153.6,454.7 154.7,454.7 155.7,453.6 156.7,453.7 157.7,453.4 159.2,454.2 160.0,454.7 160.9,454.6 161.7,455.9 162.5,456.5 163.3,456.8 164.2,457.7 165.0,457.7 166.0,458.5 167.0,459.8 168.5,460.8 169.4,461.2 170.3,461.2 171.2,461.3 172.0,461.3 172.9,462.0 173.8,461.7 174.8,462.0 174.8,462.0" fill="#000"/>
<polygon points="207.8,462.0 207.8,462.0 208.4,459.0 209.6,460.4 211.2,461.9 212.1,462.0 213.0,461.9 213.8,462.0 214.7,461.4 215.6,462.0 216.5,461.9 217.7,460.0 219.1,441.3 220.1,428.5 221.2,415.3 221.9,412.5 222.8,412.5 223.6,415.8 224.3,421.3 225.2,428.3 226.1,434.1 227.2,441.2 228.4,447.5 229.5,451.5 230.6,451.0 231.6,450.9 232.7,450.9 233.5,450.6 234.4,449.4 235.2,449.5 236.2,449.2 237.7,450.0 238.6,451.4 239.6,452.4 240.6,453.7 241.5,455.6 242.5,457.2 243.5,459.8 245.0,460.8 245.9,461.3 246.9,460.8 247.9,461.2 248.8,461.7 249.8,462.0 249.8,462.0" fill="#000"/>
<polygon points="281.9,462.0 281.9,462.0 282.6,459.0 283.4,459.4 284.2,460.0 285.0,461.3 285.9,461.8 286.7,461.4 287.5,461.7 288.4,461.8 289.2,462.0 290.0,461.8 291.2,459.5 292.6,436.1 293.8,403.3 294.3,400.0 295.1,400.0 295.6,403.3 297.1,438.6 298.7,456.0 299.5,458.5 300.5,459.1 301.5,459.0 302.6,458.9 303.6,457.8 304.6,457.5 305.6,456.7 306.6,455.9 307.6,455.3 308.8,454.3 310.1,455.3 311.2,457.5 312.3,459.0 313.8,460.5 314.8,461.3 315.8,460.9 316.8,461.6 317.8,461.5 318.8,462.0 318.8,462.0" fill="#000"/>
<polygon points="357.7,462.0 357.7,462.0 358.0,455.8 359.2,457.3 360.0,457.0 360.9,457.1 361.7,457.5 362.5,457.7 363.3,457.3 364.2,457.0 365.0,457.8 366.0,456.4 367.0,455.3 368.5,441.1 369.2,428.0 369.7,424.7 370.3,424.7 370.9,428.0 371.7,433.8 372.5,439.9 373.3,442.7 374.2,446.0 375.0,448.0 375.9,448.6 376.8,448.6 377.6,449.1 378.5,449.2 379.3,449.4 380.2,448.6 381.0,449.2 382.0,448.8 383.5,450.3 384.4,452.1 385.3,453.1 386.2,454.5 387.1,455.6 388.0,456.4 389.0,457.3 390.0,458.5 390.8,458.9 391.7,459.1 392.5,460.2 393.4,460.6 394.3,460.1 395.2,460.3 396.2,460.7 397.1,460.9 398.0,461.6 399.5,462.0 399.5,462.0" fill="#000"/>
<polygon points="434.2,462.0 434.2,462.0 434.5,452.4 435.7,453.9 436.6,453.8 437.6,453.6 438.5,454.4 439.5,452.5 440.5,451.9 441.6,442.6 442.8,434.2 444.2,417.6 444.7,414.3 445.3,414.3 445.9,417.6 447.3,437.1 448.5,442.6 449.6,449.2 450.5,449.3 451.3,449.1 452.2,450.6 453.1,450.4 453.9,449.6 454.7,447.9 455.5,447.4 456.5,447.0 458.0,448.5 458.9,449.9 459.8,451.8 460.6,453.6 461.5,455.5 462.5,456.5 463.5,458.5 464.3,459.6 465.2,460.3 466.0,460.2 466.9,460.3 467.7,460.5 468.6,460.1 469.5,460.3 470.3,460.8 471.2,460.8 472.1,461.7 472.9,461.0 473.8,461.6 475.3,462.0 475.3,462.0" fill="#000"/>
<polygon points="55.5,532.9 55.5,532.9 56.1,529.6 57.3,531.1 58.1,531.4 58.9,532.8 59.7,532.9 60.6,532.8 61.4,532.4 62.3,532.9 63.1,532.2 64.0,532.8 64.8,532.8 66.0,530.9 67.2,512.9 68.1,500.9 68.9,487.7 69.6,484.9 70.5,484.9 71.3,488.2 72.0,493.4 73.0,500.1 74.0,505.8 74.8,510.4 75.7,514.1 76.5,518.7 77.6,522.7 78.5,522.3 79.3,521.9 80.2,522.0 81.1,521.7 82.0,520.7 83.0,520.4 84.5,521.2 85.4,522.1 86.2,523.4 87.1,523.7 88.0,524.5 88.8,526.1 89.7,526.6 90.7,529.3 91.7,530.7 93.2,531.7 94.4,532.6 95.6,532.6 96.6,532.9 96.6,532.9" fill="#000"/>
<polygon points="131.8,532.9 131.8,532.9 132.4,529.9 133.6,531.3 135.2,532.8 136.0,532.9 136.8,532.9 137.6,532.9 138.4,532.5 139.2,532.8 140.0,532.8 141.2,530.9 142.4,514.6 143.2,503.0 144.1,491.8 144.8,489.0 145.7,489.0 146.5,492.3 147.2,497.4 148.4,509.6 149.3,515.4 150.2,522.3 151.3,526.3 152.2,525.4 153.2,525.5 154.2,525.1 155.1,525.1 156.1,524.8 157.2,524.5 158.2,523.3 159.2,523.0 160.7,523.8 161.7,525.1 162.8,527.1 163.8,528.0 164.8,529.9 165.8,530.7 167.3,531.7 168.1,532.4 169.0,531.8 169.8,531.7 170.7,531.8 171.5,531.9 172.3,532.0 173.2,532.6 174.0,532.6 175.0,532.9 175.0,532.9" fill="#000"/>
<polygon points="207.8,532.9 207.8,532.9 208.4,529.9 209.6,531.3 211.2,532.8 212.0,532.9 212.8,532.9 213.6,532.8 214.4,532.9 215.2,532.8 216.4,530.9 217.6,512.5 218.4,500.1 219.3,486.9 220.0,484.1 220.9,484.1 221.7,487.4 222.4,493.2 223.6,506.3 224.5,512.8 225.4,520.3 226.5,524.3 227.4,524.1 228.4,524.1 229.4,523.6 230.3,522.8 231.3,522.4 232.4,521.4 233.4,520.7 234.4,520.4 235.9,521.2 236.9,522.6 238.0,525.2 239.0,526.6 240.0,528.5 241.0,530.7 242.5,531.7 243.3,532.2 244.2,532.4 245.0,531.8 245.8,531.9 246.7,532.7 247.5,532.5 248.3,531.9 249.1,532.0 250.0,532.1 250.8,532.6 251.8,532.9 251.8,532.9" fill="#000"/>
<polygon points="282.2,532.9 282.2,532.9 282.9,529.9 283.7,530.8 284.5,530.9 285.4,532.1 286.2,532.7 287.0,532.3 287.8,532.9 288.6,532.9 289.4,532.9 290.2,532.6 291.0,532.7 292.2,530.4 293.0,518.9 293.8,507.3 295.3,475.0 295.8,471.7 296.6,471.7 297.1,475.0 298.6,509.8 300.2,526.9 301.0,529.4 302.0,529.3 303.0,529.9 303.9,529.0 304.7,529.6 305.6,528.9 306.4,528.4 307.3,527.9 308.1,527.8 308.9,526.8 309.7,526.3 310.9,525.3 312.2,526.3 313.1,527.4 314.1,528.1 315.0,528.2 316.0,528.9 316.9,529.9 318.4,531.4 319.4,531.6 320.4,531.9 321.4,532.5 322.4,532.8 323.4,532.9 323.4,532.9" fill="#000"/>
<polygon points="358.9,532.9 358.9,532.9 359.2,518.9 360.4,520.4 361.2,520.2 362.0,520.5 362.9,520.2 363.7,521.4 364.5,520.9 365.5,519.4 366.5,518.4 367.7,512.8 368.9,507.3 369.7,502.4 370.5,497.2 371.0,493.9 371.6,493.9 372.2,497.2 373.3,509.0 374.3,513.6 375.3,517.0 376.2,517.2 377.2,518.2 378.1,517.9 379.1,518.2 380.0,519.1 380.9,520.0 381.8,520.8 382.8,520.4 384.3,521.9 385.3,523.1 386.3,525.6 387.3,527.6 388.3,528.1 389.3,529.4 390.1,529.3 391.0,531.0 391.8,531.1 392.7,530.8 393.6,531.4 394.5,531.9 395.4,531.9 396.3,531.7 397.2,532.2 398.1,532.4 399.0,532.5 400.5,532.9 400.5,532.9" fill="#000"/>
<polygon points="434.3,532.9 434.3,532.9 434.6,523.8 435.8,525.3 436.9,525.9 437.9,525.1 439.0,525.8 440.0,524.6 441.0,523.3 442.2,514.3 443.4,506.0 444.2,497.5 445.0,489.7 445.5,486.4 446.1,486.4 446.7,489.7 447.8,508.6 448.7,514.9 449.7,520.4 450.5,520.7 451.3,521.0 452.2,521.5 453.0,521.9 453.8,521.6 454.8,520.7 455.9,520.1 456.9,519.1 457.9,518.7 459.4,520.2 460.4,522.4 461.4,524.6 462.4,526.8 463.4,528.4 464.4,529.4 465.2,529.9 466.1,530.6 466.9,531.1 467.7,531.2 468.5,531.9 469.3,531.7 470.1,532.0 470.9,532.2 471.7,531.3 472.5,531.8 473.4,532.5 474.2,532.4 475.0,531.5 475.8,531.6 476.6,532.1 477.4,531.7 478.2,532.0 479.0,532.5 480.5,532.9 480.5,532.9" fill="#000"/>
<text x="122.6" y="333.8" font-size="10.1" text-anchor="end" stroke="#000" stroke-width="0.45" >3.1</text>
<text x="122.6" y="345.4" font-size="10.1" text-anchor="end" stroke="#000" stroke-width="0.45" >62.9</text>
<text x="122.6" y="357.4" font-size="10.1" text-anchor="end" stroke="#000" stroke-width="0.45" >13.3</text>
<text x="122.6" y="369.5" font-size="10.1" text-anchor="end" stroke="#000" stroke-width="0.45" >20.7</text>
<text x="122.6" y="403.5" font-size="10.1" text-anchor="end" stroke="#000" stroke-width="0.45" >1.8</text>
<text x="122.6" y="415.6" font-size="10.1" text-anchor="end" stroke="#000" stroke-width="0.45" >63.4</text>
<text x="122.6" y="427.6" font-size="10.1" text-anchor="end" stroke="#000" stroke-width="0.45" >11.2</text>
<text x="122.6" y="439.6" font-size="10.1" text-anchor="end" stroke="#000" stroke-width="0.45" >23.6</text>
<text x="196.6" y="403.5" font-size="10.1" text-anchor="end" stroke="#000" stroke-width="0.45" >2.6</text>
<text x="196.6" y="415.6" font-size="10.1" text-anchor="end" stroke="#000" stroke-width="0.45" >64.5</text>
<text x="196.6" y="427.6" font-size="10.1" text-anchor="end" stroke="#000" stroke-width="0.45" >10.2</text>
<text x="196.6" y="439.6" font-size="10.1" text-anchor="end" stroke="#000" stroke-width="0.45" >22.7</text>
<text x="272.0" y="403.5" font-size="10.1" text-anchor="end" stroke="#000" stroke-width="0.45" >4.1</text>
<text x="272.0" y="415.6" font-size="10.1" text-anchor="end" stroke="#000" stroke-width="0.45" >62.5</text>
<text x="272.0" y="427.6" font-size="10.1" text-anchor="end" stroke="#000" stroke-width="0.45" >10.7</text>
<text x="272.0" y="439.6" font-size="10.1" text-anchor="end" stroke="#000" stroke-width="0.45" >22.8</text>
<text x="346.3" y="403.5" font-size="10.1" text-anchor="end" stroke="#000" stroke-width="0.45" >4.8</text>
<text x="346.3" y="415.6" font-size="10.1" text-anchor="end" stroke="#000" stroke-width="0.45" >76.7</text>
<text x="346.3" y="427.6" font-size="10.1" text-anchor="end" stroke="#000" stroke-width="0.45" >2.5</text>
<text x="346.3" y="439.6" font-size="10.1" text-anchor="end" stroke="#000" stroke-width="0.45" >16.0</text>
<text x="424.6" y="403.5" font-size="10.1" text-anchor="end" stroke="#000" stroke-width="0.45" >11.8</text>
<text x="424.6" y="415.6" font-size="10.1" text-anchor="end" stroke="#000" stroke-width="0.45" >52.6</text>
<text x="424.6" y="427.6" font-size="10.1" text-anchor="end" stroke="#000" stroke-width="0.45" >13.2</text>
<text x="424.6" y="439.6" font-size="10.1" text-anchor="end" stroke="#000" stroke-width="0.45" >22.4</text>
<text x="500.3" y="403.5" font-size="10.1" text-anchor="end" stroke="#000" stroke-width="0.45" >16.2</text>
<text x="500.3" y="415.6" font-size="10.1" text-anchor="end" stroke="#000" stroke-width="0.45" >52.2</text>
<text x="500.3" y="427.6" font-size="10.1" text-anchor="end" stroke="#000" stroke-width="0.45" >11.1</text>
<text x="500.3" y="439.6" font-size="10.1" text-anchor="end" stroke="#000" stroke-width="0.45" >20.5</text>
<text x="122.6" y="473.3" font-size="10.1" text-anchor="end" stroke="#000" stroke-width="0.45" >3.1</text>
<text x="122.6" y="485.9" font-size="10.1" text-anchor="end" stroke="#000" stroke-width="0.45" >62.7</text>
<text x="122.6" y="498.1" font-size="10.1" text-anchor="end" stroke="#000" stroke-width="0.45" >10.0</text>
<text x="122.6" y="510.2" font-size="10.1" text-anchor="end" stroke="#000" stroke-width="0.45" >24.2</text>
<text x="196.6" y="473.3" font-size="10.1" text-anchor="end" stroke="#000" stroke-width="0.45" >2.7</text>
<text x="196.6" y="485.9" font-size="10.1" text-anchor="end" stroke="#000" stroke-width="0.45" >63.4</text>
<text x="196.6" y="498.1" font-size="10.1" text-anchor="end" stroke="#000" stroke-width="0.45" >10.1</text>
<text x="196.6" y="510.2" font-size="10.1" text-anchor="end" stroke="#000" stroke-width="0.45" >23.8</text>
<text x="272.0" y="473.3" font-size="10.1" text-anchor="end" stroke="#000" stroke-width="0.45" >3.4</text>
<text x="272.0" y="485.9" font-size="10.1" text-anchor="end" stroke="#000" stroke-width="0.45" >62.3</text>
<text x="272.0" y="498.1" font-size="10.1" text-anchor="end" stroke="#000" stroke-width="0.45" >11.8</text>
<text x="272.0" y="510.2" font-size="10.1" text-anchor="end" stroke="#000" stroke-width="0.45" >22.5</text>
<text x="346.3" y="473.3" font-size="10.1" text-anchor="end" stroke="#000" stroke-width="0.45" >4.1</text>
<text x="346.3" y="485.9" font-size="10.1" text-anchor="end" stroke="#000" stroke-width="0.45" >72.9</text>
<text x="346.3" y="498.1" font-size="10.1" text-anchor="end" stroke="#000" stroke-width="0.45" >5.3</text>
<text x="346.3" y="510.2" font-size="10.1" text-anchor="end" stroke="#000" stroke-width="0.45" >17.7</text>
<text x="424.6" y="473.3" font-size="10.1" text-anchor="end" stroke="#000" stroke-width="0.45" >18.2</text>
<text x="424.6" y="485.9" font-size="10.1" text-anchor="end" stroke="#000" stroke-width="0.45" >49.0</text>
<text x="424.6" y="498.1" font-size="10.1" text-anchor="end" stroke="#000" stroke-width="0.45" >12.7</text>
<text x="424.6" y="510.2" font-size="10.1" text-anchor="end" stroke="#000" stroke-width="0.45" >20.1</text>
<text x="500.3" y="473.3" font-size="10.1" text-anchor="end" stroke="#000" stroke-width="0.45" >16.5</text>
<text x="500.3" y="485.9" font-size="10.1" text-anchor="end" stroke="#000" stroke-width="0.45" >51.8</text>
<text x="500.3" y="498.1" font-size="10.1" text-anchor="end" stroke="#000" stroke-width="0.45" >10.9</text>
<text x="500.3" y="510.2" font-size="10.1" text-anchor="end" stroke="#000" stroke-width="0.45" >20.8</text>
<line x1="131" y1="330.3" x2="142.2" y2="330.3" stroke="#000" stroke-width="1.6"/>
<polygon points="128.4,330.3 133.8,327.3 132.6,330.3 133.8,333.3" fill="#000"/>
<text x="145.4" y="333.8" font-size="9.8" text-anchor="start" stroke="#000" stroke-width="0.45" >%&lt;G<tspan font-size="7" dy="2">1</tspan></text>
<line x1="131" y1="341.9" x2="142.2" y2="341.9" stroke="#000" stroke-width="1.6"/>
<polygon points="128.4,341.9 133.8,338.9 132.6,341.9 133.8,344.9" fill="#000"/>
<text x="145.4" y="345.4" font-size="9.8" text-anchor="start" stroke="#000" stroke-width="0.45" >%G<tspan font-size="7" dy="2">1</tspan></text>
<line x1="131" y1="353.9" x2="142.2" y2="353.9" stroke="#000" stroke-width="1.6"/>
<polygon points="128.4,353.9 133.8,350.9 132.6,353.9 133.8,356.9" fill="#000"/>
<text x="145.4" y="357.4" font-size="9.8" text-anchor="start" stroke="#000" stroke-width="0.45" >%S</text>
<line x1="131" y1="366.0" x2="142.2" y2="366.0" stroke="#000" stroke-width="1.6"/>
<polygon points="128.4,366.0 133.8,363.0 132.6,366.0 133.8,369.0" fill="#000"/>
<text x="145.4" y="369.5" font-size="9.8" text-anchor="start" stroke="#000" stroke-width="0.45" >%G<tspan font-size="7" dy="2">2</tspan><tspan dy="-2">-M</tspan></text>
<text x="48.2" y="365.7" font-size="13.2" text-anchor="end" textLength="19.4" lengthAdjust="spacingAndGlyphs" stroke="#000" stroke-width="0.45" >0 h</text>
<text x="48.2" y="433.3" font-size="13.2" text-anchor="end" textLength="27.0" lengthAdjust="spacingAndGlyphs" stroke="#000" stroke-width="0.45" >24 h</text>
<text x="48.2" y="502.2" font-size="13.2" text-anchor="end" textLength="27.0" lengthAdjust="spacingAndGlyphs" stroke="#000" stroke-width="0.45" >48 h</text>
<text x="57.5" y="553.3" font-size="12" text-anchor="start" textLength="63.0" lengthAdjust="spacingAndGlyphs" stroke="#000" stroke-width="0.45" >Nontreated</text>
<text x="136.9" y="552.5" font-size="12" text-anchor="start" textLength="35.3" lengthAdjust="spacingAndGlyphs" stroke="#000" stroke-width="0.45" >DMSO</text>
<text x="202.7" y="552.5" font-size="12" text-anchor="start" textLength="75.0" lengthAdjust="spacingAndGlyphs" stroke="#000" stroke-width="0.45" >Nicotinamide</text>
<text x="295.4" y="552.1" font-size="12" text-anchor="start" textLength="34.4" lengthAdjust="spacingAndGlyphs" stroke="#000" stroke-width="0.45" >EX527</text>
<text x="362.1" y="552.1" font-size="12" text-anchor="start" textLength="56.0" lengthAdjust="spacingAndGlyphs" stroke="#000" stroke-width="0.45" >Salermide</text>
<text x="446.0" y="552.1" font-size="12" text-anchor="start" textLength="41.0" lengthAdjust="spacingAndGlyphs" stroke="#000" stroke-width="0.45" >Sirtinol</text>
<defs><filter id="bl" x="-5%" y="-5%" width="110%" height="110%"><feGaussianBlur stdDeviation="0.45"/></filter><filter id="bl2" x="-5%" y="-5%" width="110%" height="110%"><feGaussianBlur stdDeviation="0.6"/></filter><filter id="mb" x="-10%" y="-10%" width="120%" height="120%"><feGaussianBlur stdDeviation="2.8"/></filter></defs>
<filter id="tx11" x="0" y="0" width="100%" height="100%" color-interpolation-filters="sRGB"><feTurbulence type="fractalNoise" baseFrequency="0.38" numOctaves="2" seed="11"/><feColorMatrix type="matrix" values="1 0 0 0 0 1 0 0 0 0 1 0 0 0 0 0 0 0 0 1"/><feComponentTransfer><feFuncR type="table" tableValues="0.46 0.465 0.47 0.48 0.495 0.515 0.55 0.62 0.72 0.80 0.85"/><feFuncG type="table" tableValues="0.46 0.465 0.47 0.48 0.495 0.515 0.55 0.62 0.72 0.80 0.85"/><feFuncB type="table" tableValues="0.46 0.465 0.47 0.48 0.495 0.515 0.55 0.62 0.72 0.80 0.85"/></feComponentTransfer></filter>
<mask id="mk11" maskUnits="userSpaceOnUse" x="96.4" y="583.8" width="110.8" height="82.4"><g filter="url(#mb)">
<rect x="91.4" y="578.8" width="120.8" height="92.4" fill="#fff"/>
<circle cx="187.9" cy="604.1" r="12.2" fill="#222"/>
<circle cx="110.5" cy="617.4" r="7.7" fill="#222"/>
<circle cx="141.4" cy="656.1" r="7.7" fill="#222"/>
<circle cx="168.0" cy="595.3" r="5.5" fill="#222"/>
<circle cx="201.2" cy="635.1" r="6.6" fill="#222"/>
</g></mask>
<rect x="96.4" y="583.8" width="110.8" height="82.4" fill="#838383"/>
<rect x="96.4" y="583.8" width="110.8" height="82.4" filter="url(#tx11)" mask="url(#mk11)"/>
<clipPath id="cp11"><rect x="96.4" y="583.8" width="110.8" height="82.4"/></clipPath>
<g clip-path="url(#cp11)"><g filter="url(#bl)" stroke-width="0.65" fill-opacity="0.55" stroke-opacity="0.85">
<ellipse cx="146.7" cy="629.7" rx="3.1" ry="1.2" transform="rotate(168 146.7 629.7)" fill="#707070" stroke="#c8c8c8"/>
<ellipse cx="197.1" cy="622.3" rx="2.4" ry="1.3" transform="rotate(160 197.1 622.3)" fill="#767676" stroke="#b0b0b0"/>
<ellipse cx="152.6" cy="631.9" rx="2.6" ry="1.7" transform="rotate(90 152.6 631.9)" fill="#767676" stroke="#a6a6a6"/>
<ellipse cx="118.1" cy="625.9" rx="2.3" ry="2.0" transform="rotate(18 118.1 625.9)" fill="#707070" stroke="#b0b0b0"/>
<ellipse cx="165.7" cy="648.0" rx="2.1" ry="1.5" transform="rotate(16 165.7 648.0)" fill="#7c7c7c" stroke="#a6a6a6"/>
<ellipse cx="108.5" cy="609.6" rx="3.2" ry="1.9" transform="rotate(47 108.5 609.6)" fill="#767676" stroke="#b0b0b0"/>
<ellipse cx="108.1" cy="649.3" rx="2.5" ry="1.1" transform="rotate(62 108.1 649.3)" fill="#767676" stroke="#c8c8c8"/>
<ellipse cx="172.5" cy="589.1" rx="2.5" ry="1.1" transform="rotate(146 172.5 589.1)" fill="#767676" stroke="#b0b0b0"/>
<ellipse cx="203.3" cy="661.4" rx="2.9" ry="1.3" transform="rotate(60 203.3 661.4)" fill="#767676" stroke="#bcbcbc"/>
<ellipse cx="168.2" cy="634.1" rx="2.0" ry="1.6" transform="rotate(130 168.2 634.1)" fill="#767676" stroke="#c8c8c8"/>
<ellipse cx="115.2" cy="587.0" rx="2.6" ry="1.7" transform="rotate(136 115.2 587.0)" fill="#7c7c7c" stroke="#c8c8c8"/>
<ellipse cx="154.8" cy="590.5" rx="2.6" ry="1.8" transform="rotate(101 154.8 590.5)" fill="#7c7c7c" stroke="#bcbcbc"/>
<ellipse cx="118.7" cy="604.8" rx="2.5" ry="1.9" transform="rotate(46 118.7 604.8)" fill="#7c7c7c" stroke="#c8c8c8"/>
<ellipse cx="101.6" cy="622.2" rx="2.1" ry="1.9" transform="rotate(174 101.6 622.2)" fill="#767676" stroke="#e0e0e0"/>
<ellipse cx="153.8" cy="636.0" rx="2.6" ry="1.3" transform="rotate(96 153.8 636.0)" fill="#707070" stroke="#e0e0e0"/>
<ellipse cx="151.8" cy="637.7" rx="2.6" ry="1.1" transform="rotate(174 151.8 637.7)" fill="#767676" stroke="#e0e0e0"/>
<ellipse cx="147.2" cy="607.6" rx="2.6" ry="2.0" transform="rotate(22 147.2 607.6)" fill="#7c7c7c" stroke="#b0b0b0"/>
<ellipse cx="204.9" cy="663.9" rx="2.0" ry="1.9" transform="rotate(83 204.9 663.9)" fill="#767676" stroke="#c8c8c8"/>
<ellipse cx="188.1" cy="641.3" rx="2.1" ry="1.5" transform="rotate(61 188.1 641.3)" fill="#7c7c7c" stroke="#c8c8c8"/>
<ellipse cx="132.1" cy="603.8" rx="2.2" ry="1.3" transform="rotate(111 132.1 603.8)" fill="#707070" stroke="#a6a6a6"/>
<ellipse cx="129.3" cy="591.3" rx="2.8" ry="2.0" transform="rotate(6 129.3 591.3)" fill="#707070" stroke="#bcbcbc"/>
<ellipse cx="180.2" cy="617.2" rx="1.8" ry="1.4" transform="rotate(130 180.2 617.2)" fill="#7c7c7c" stroke="#bcbcbc"/>
<ellipse cx="200.7" cy="652.2" rx="2.5" ry="1.5" transform="rotate(105 200.7 652.2)" fill="#7c7c7c" stroke="#e0e0e0"/>
<ellipse cx="98.5" cy="602.2" rx="2.2" ry="1.3" transform="rotate(95 98.5 602.2)" fill="#707070" stroke="#c8c8c8"/>
<ellipse cx="195.6" cy="622.6" rx="2.3" ry="1.5" transform="rotate(95 195.6 622.6)" fill="#7c7c7c" stroke="#bcbcbc"/>
<ellipse cx="203.1" cy="617.0" rx="2.1" ry="1.7" transform="rotate(115 203.1 617.0)" fill="#707070" stroke="#e0e0e0"/>
<ellipse cx="106.2" cy="635.1" rx="3.0" ry="1.7" transform="rotate(154 106.2 635.1)" fill="#7c7c7c" stroke="#bcbcbc"/>
<ellipse cx="201.4" cy="645.2" rx="2.7" ry="1.4" transform="rotate(33 201.4 645.2)" fill="#767676" stroke="#e0e0e0"/>
<ellipse cx="111.0" cy="605.1" rx="3.0" ry="1.3" transform="rotate(140 111.0 605.1)" fill="#707070" stroke="#bcbcbc"/>
<ellipse cx="109.2" cy="590.5" rx="2.0" ry="1.3" transform="rotate(131 109.2 590.5)" fill="#767676" stroke="#a6a6a6"/>
<ellipse cx="158.1" cy="620.9" rx="1.9" ry="1.8" transform="rotate(76 158.1 620.9)" fill="#707070" stroke="#bcbcbc"/>
<ellipse cx="118.8" cy="643.2" rx="2.4" ry="1.7" transform="rotate(3 118.8 643.2)" fill="#7c7c7c" stroke="#bcbcbc"/>
<ellipse cx="112.4" cy="636.3" rx="2.8" ry="1.9" transform="rotate(174 112.4 636.3)" fill="#7c7c7c" stroke="#b0b0b0"/>
<ellipse cx="121.1" cy="607.0" rx="2.5" ry="1.8" transform="rotate(91 121.1 607.0)" fill="#707070" stroke="#bcbcbc"/>
<ellipse cx="202.1" cy="648.8" rx="2.5" ry="1.1" transform="rotate(137 202.1 648.8)" fill="#7c7c7c" stroke="#e0e0e0"/>
<ellipse cx="130.9" cy="655.2" rx="3.1" ry="1.5" transform="rotate(34 130.9 655.2)" fill="#707070" stroke="#b0b0b0"/>
<ellipse cx="120.9" cy="616.7" rx="2.0" ry="1.2" transform="rotate(51 120.9 616.7)" fill="#7c7c7c" stroke="#b0b0b0"/>
<ellipse cx="189.6" cy="636.1" rx="1.9" ry="2.0" transform="rotate(83 189.6 636.1)" fill="#767676" stroke="#b0b0b0"/>
<ellipse cx="109.1" cy="663.4" rx="2.3" ry="1.5" transform="rotate(64 109.1 663.4)" fill="#7c7c7c" stroke="#bcbcbc"/>
<ellipse cx="121.2" cy="606.0" rx="2.3" ry="1.7" transform="rotate(7 121.2 606.0)" fill="#707070" stroke="#bcbcbc"/>
<ellipse cx="130.0" cy="591.6" rx="2.4" ry="1.4" transform="rotate(67 130.0 591.6)" fill="#7c7c7c" stroke="#bcbcbc"/>
<ellipse cx="108.0" cy="631.5" rx="2.0" ry="1.6" transform="rotate(3 108.0 631.5)" fill="#7c7c7c" stroke="#b0b0b0"/>
<ellipse cx="124.4" cy="632.9" rx="3.0" ry="1.9" transform="rotate(169 124.4 632.9)" fill="#7c7c7c" stroke="#e0e0e0"/>
<ellipse cx="138.1" cy="621.3" rx="2.1" ry="1.6" transform="rotate(61 138.1 621.3)" fill="#767676" stroke="#a6a6a6"/>
<ellipse cx="200.8" cy="623.7" rx="3.1" ry="1.8" transform="rotate(140 200.8 623.7)" fill="#707070" stroke="#c8c8c8"/>
<ellipse cx="159.8" cy="653.7" rx="3.1" ry="1.9" transform="rotate(125 159.8 653.7)" fill="#707070" stroke="#c8c8c8"/>
<ellipse cx="117.9" cy="597.9" rx="2.4" ry="1.8" transform="rotate(13 117.9 597.9)" fill="#767676" stroke="#a6a6a6"/>
<ellipse cx="195.4" cy="649.9" rx="2.5" ry="1.1" transform="rotate(64 195.4 649.9)" fill="#707070" stroke="#e0e0e0"/>
<ellipse cx="125.0" cy="600.7" rx="2.1" ry="2.0" transform="rotate(120 125.0 600.7)" fill="#707070" stroke="#a6a6a6"/>
<ellipse cx="177.4" cy="659.5" rx="2.7" ry="1.6" transform="rotate(96 177.4 659.5)" fill="#7c7c7c" stroke="#c8c8c8"/>
<ellipse cx="119.4" cy="660.3" rx="3.2" ry="1.7" transform="rotate(126 119.4 660.3)" fill="#7c7c7c" stroke="#c8c8c8"/>
<ellipse cx="192.6" cy="633.1" rx="1.8" ry="1.7" transform="rotate(133 192.6 633.1)" fill="#767676" stroke="#a6a6a6"/>
<ellipse cx="143.4" cy="593.9" rx="2.4" ry="1.1" transform="rotate(35 143.4 593.9)" fill="#707070" stroke="#c8c8c8"/>
<ellipse cx="102.5" cy="661.3" rx="1.9" ry="1.3" transform="rotate(163 102.5 661.3)" fill="#7c7c7c" stroke="#e0e0e0"/>
<ellipse cx="123.9" cy="641.0" rx="2.5" ry="2.0" transform="rotate(102 123.9 641.0)" fill="#7c7c7c" stroke="#b0b0b0"/>
<ellipse cx="125.8" cy="650.4" rx="2.4" ry="1.7" transform="rotate(99 125.8 650.4)" fill="#767676" stroke="#b0b0b0"/>
<ellipse cx="162.1" cy="608.8" rx="3.1" ry="1.2" transform="rotate(85 162.1 608.8)" fill="#767676" stroke="#bcbcbc"/>
<ellipse cx="117.1" cy="642.3" rx="2.6" ry="1.6" transform="rotate(77 117.1 642.3)" fill="#767676" stroke="#c8c8c8"/>
<ellipse cx="105.7" cy="603.7" rx="2.2" ry="1.5" transform="rotate(56 105.7 603.7)" fill="#767676" stroke="#e0e0e0"/>
<ellipse cx="158.1" cy="652.6" rx="2.5" ry="1.3" transform="rotate(167 158.1 652.6)" fill="#707070" stroke="#a6a6a6"/>
<ellipse cx="164.0" cy="607.8" rx="1.8" ry="1.3" transform="rotate(8 164.0 607.8)" fill="#767676" stroke="#bcbcbc"/>
<ellipse cx="100.2" cy="606.9" rx="2.9" ry="1.5" transform="rotate(162 100.2 606.9)" fill="#707070" stroke="#c8c8c8"/>
<ellipse cx="146.0" cy="590.5" rx="2.6" ry="1.8" transform="rotate(57 146.0 590.5)" fill="#767676" stroke="#bcbcbc"/>
<ellipse cx="159.5" cy="596.1" rx="2.8" ry="1.3" transform="rotate(136 159.5 596.1)" fill="#7c7c7c" stroke="#b0b0b0"/>
<ellipse cx="172.2" cy="631.6" rx="1.9" ry="1.8" transform="rotate(164 172.2 631.6)" fill="#707070" stroke="#bcbcbc"/>
<ellipse cx="113.4" cy="588.6" rx="2.6" ry="1.2" transform="rotate(112 113.4 588.6)" fill="#707070" stroke="#c8c8c8"/>
<ellipse cx="100.3" cy="657.2" rx="2.1" ry="1.1" transform="rotate(95 100.3 657.2)" fill="#767676" stroke="#b0b0b0"/>
<ellipse cx="173.3" cy="661.3" rx="2.4" ry="1.7" transform="rotate(82 173.3 661.3)" fill="#7c7c7c" stroke="#a6a6a6"/>
<ellipse cx="100.7" cy="635.7" rx="2.6" ry="1.5" transform="rotate(140 100.7 635.7)" fill="#707070" stroke="#e0e0e0"/>
<ellipse cx="149.9" cy="643.1" rx="3.1" ry="1.8" transform="rotate(43 149.9 643.1)" fill="#7c7c7c" stroke="#b0b0b0"/>
<ellipse cx="132.5" cy="664.1" rx="3.0" ry="1.8" transform="rotate(112 132.5 664.1)" fill="#767676" stroke="#a6a6a6"/>
<ellipse cx="106.4" cy="628.6" rx="2.2" ry="1.7" transform="rotate(102 106.4 628.6)" fill="#707070" stroke="#e0e0e0"/>
<ellipse cx="177.1" cy="656.4" rx="2.7" ry="1.8" transform="rotate(34 177.1 656.4)" fill="#7c7c7c" stroke="#bcbcbc"/>
<ellipse cx="177.1" cy="641.0" rx="3.2" ry="1.9" transform="rotate(158 177.1 641.0)" fill="#7c7c7c" stroke="#b0b0b0"/>
<ellipse cx="183.1" cy="657.5" rx="1.9" ry="1.3" transform="rotate(77 183.1 657.5)" fill="#707070" stroke="#e0e0e0"/>
<ellipse cx="136.0" cy="639.5" rx="1.9" ry="1.6" transform="rotate(13 136.0 639.5)" fill="#7c7c7c" stroke="#b0b0b0"/>
<ellipse cx="194.6" cy="654.1" rx="2.0" ry="1.3" transform="rotate(177 194.6 654.1)" fill="#767676" stroke="#c8c8c8"/>
<ellipse cx="143.0" cy="647.8" rx="2.3" ry="1.4" transform="rotate(89 143.0 647.8)" fill="#707070" stroke="#bcbcbc"/>
<ellipse cx="190.6" cy="630.7" rx="2.9" ry="1.5" transform="rotate(148 190.6 630.7)" fill="#767676" stroke="#bcbcbc"/>
<ellipse cx="165.1" cy="615.8" rx="2.4" ry="1.3" transform="rotate(146 165.1 615.8)" fill="#707070" stroke="#a6a6a6"/>
<ellipse cx="160.6" cy="633.5" rx="2.7" ry="2.0" transform="rotate(59 160.6 633.5)" fill="#7c7c7c" stroke="#e0e0e0"/>
<ellipse cx="107.0" cy="635.9" rx="3.0" ry="1.3" transform="rotate(118 107.0 635.9)" fill="#707070" stroke="#e0e0e0"/>
<ellipse cx="204.5" cy="654.8" rx="2.4" ry="1.4" transform="rotate(98 204.5 654.8)" fill="#7c7c7c" stroke="#c8c8c8"/>
<ellipse cx="176.2" cy="616.3" rx="2.6" ry="1.8" transform="rotate(83 176.2 616.3)" fill="#707070" stroke="#b0b0b0"/>
<ellipse cx="176.9" cy="631.3" rx="2.2" ry="1.9" transform="rotate(109 176.9 631.3)" fill="#767676" stroke="#a6a6a6"/>
<ellipse cx="107.3" cy="644.6" rx="2.8" ry="1.7" transform="rotate(51 107.3 644.6)" fill="#707070" stroke="#bcbcbc"/>
<ellipse cx="101.6" cy="632.9" rx="2.3" ry="1.8" transform="rotate(66 101.6 632.9)" fill="#767676" stroke="#b0b0b0"/>
<ellipse cx="149.8" cy="603.8" rx="2.8" ry="1.6" transform="rotate(165 149.8 603.8)" fill="#767676" stroke="#a6a6a6"/>
<ellipse cx="173.0" cy="624.8" rx="2.5" ry="2.0" transform="rotate(82 173.0 624.8)" fill="#767676" stroke="#bcbcbc"/>
<ellipse cx="164.0" cy="658.0" rx="3.2" ry="1.8" transform="rotate(93 164.0 658.0)" fill="#767676" stroke="#b0b0b0"/>
<ellipse cx="125.7" cy="586.7" rx="3.0" ry="1.1" transform="rotate(122 125.7 586.7)" fill="#767676" stroke="#e0e0e0"/>
<ellipse cx="130.6" cy="639.0" rx="2.9" ry="1.8" transform="rotate(66 130.6 639.0)" fill="#7c7c7c" stroke="#c8c8c8"/>
<ellipse cx="120.0" cy="599.1" rx="2.0" ry="1.6" transform="rotate(32 120.0 599.1)" fill="#767676" stroke="#b0b0b0"/>
<ellipse cx="133.3" cy="638.0" rx="3.0" ry="1.4" transform="rotate(4 133.3 638.0)" fill="#707070" stroke="#e0e0e0"/>
<ellipse cx="119.6" cy="619.6" rx="2.6" ry="1.6" transform="rotate(174 119.6 619.6)" fill="#707070" stroke="#c8c8c8"/>
<ellipse cx="184.5" cy="657.5" rx="2.6" ry="1.4" transform="rotate(98 184.5 657.5)" fill="#707070" stroke="#a6a6a6"/>
<ellipse cx="192.4" cy="615.9" rx="2.2" ry="1.2" transform="rotate(56 192.4 615.9)" fill="#7c7c7c" stroke="#b0b0b0"/>
<ellipse cx="160.7" cy="610.6" rx="2.7" ry="1.2" transform="rotate(147 160.7 610.6)" fill="#707070" stroke="#c8c8c8"/>
<ellipse cx="112.9" cy="624.7" rx="2.8" ry="1.5" transform="rotate(163 112.9 624.7)" fill="#767676" stroke="#a6a6a6"/>
<ellipse cx="187.8" cy="652.3" rx="2.4" ry="1.4" transform="rotate(174 187.8 652.3)" fill="#767676" stroke="#bcbcbc"/>
<ellipse cx="174.4" cy="660.3" rx="2.5" ry="1.8" transform="rotate(13 174.4 660.3)" fill="#707070" stroke="#e0e0e0"/>
<ellipse cx="128.0" cy="599.1" rx="2.4" ry="1.8" transform="rotate(120 128.0 599.1)" fill="#767676" stroke="#b0b0b0"/>
<ellipse cx="146.5" cy="607.4" rx="3.0" ry="1.9" transform="rotate(172 146.5 607.4)" fill="#7c7c7c" stroke="#b0b0b0"/>
<ellipse cx="121.3" cy="618.3" rx="2.3" ry="1.1" transform="rotate(20 121.3 618.3)" fill="#707070" stroke="#c8c8c8"/>
<ellipse cx="165.2" cy="624.5" rx="2.1" ry="1.2" transform="rotate(114 165.2 624.5)" fill="#767676" stroke="#bcbcbc"/>
<ellipse cx="132.1" cy="651.6" rx="2.1" ry="1.5" transform="rotate(53 132.1 651.6)" fill="#767676" stroke="#b0b0b0"/>
<ellipse cx="203.3" cy="621.3" rx="2.2" ry="1.2" transform="rotate(117 203.3 621.3)" fill="#707070" stroke="#bcbcbc"/>
<ellipse cx="106.4" cy="588.3" rx="2.9" ry="1.1" transform="rotate(87 106.4 588.3)" fill="#767676" stroke="#b0b0b0"/>
<ellipse cx="191.6" cy="589.1" rx="2.0" ry="1.3" transform="rotate(39 191.6 589.1)" fill="#7c7c7c" stroke="#bcbcbc"/>
<ellipse cx="174.1" cy="630.5" rx="2.8" ry="1.6" transform="rotate(40 174.1 630.5)" fill="#767676" stroke="#bcbcbc"/>
<ellipse cx="131.4" cy="647.9" rx="2.4" ry="1.9" transform="rotate(169 131.4 647.9)" fill="#7c7c7c" stroke="#e0e0e0"/>
<ellipse cx="100.4" cy="596.5" rx="2.5" ry="1.3" transform="rotate(160 100.4 596.5)" fill="#7c7c7c" stroke="#a6a6a6"/>
<ellipse cx="147.0" cy="587.7" rx="2.6" ry="2.0" transform="rotate(87 147.0 587.7)" fill="#767676" stroke="#bcbcbc"/>
<ellipse cx="113.4" cy="589.5" rx="1.9" ry="2.0" transform="rotate(144 113.4 589.5)" fill="#7c7c7c" stroke="#c8c8c8"/>
<ellipse cx="165.6" cy="620.8" rx="2.9" ry="1.8" transform="rotate(142 165.6 620.8)" fill="#7c7c7c" stroke="#b0b0b0"/>
<ellipse cx="165.7" cy="637.2" rx="3.1" ry="1.9" transform="rotate(157 165.7 637.2)" fill="#767676" stroke="#a6a6a6"/>
<ellipse cx="184.6" cy="660.9" rx="2.9" ry="1.7" transform="rotate(109 184.6 660.9)" fill="#767676" stroke="#bcbcbc"/>
<ellipse cx="171.5" cy="601.4" rx="2.0" ry="1.4" transform="rotate(47 171.5 601.4)" fill="#707070" stroke="#e0e0e0"/>
<ellipse cx="149.1" cy="599.8" rx="2.7" ry="2.0" transform="rotate(48 149.1 599.8)" fill="#707070" stroke="#e0e0e0"/>
<ellipse cx="99.5" cy="622.8" rx="2.0" ry="1.8" transform="rotate(0 99.5 622.8)" fill="#707070" stroke="#bcbcbc"/>
<ellipse cx="174.7" cy="599.8" rx="1.9" ry="1.3" transform="rotate(129 174.7 599.8)" fill="#767676" stroke="#b0b0b0"/>
<ellipse cx="127.5" cy="612.9" rx="2.8" ry="1.2" transform="rotate(135 127.5 612.9)" fill="#7c7c7c" stroke="#e0e0e0"/>
<ellipse cx="172.9" cy="626.6" rx="2.2" ry="1.8" transform="rotate(75 172.9 626.6)" fill="#767676" stroke="#b0b0b0"/>
<ellipse cx="164.0" cy="645.1" rx="2.1" ry="1.6" transform="rotate(95 164.0 645.1)" fill="#767676" stroke="#bcbcbc"/>
<ellipse cx="140.4" cy="647.9" rx="2.2" ry="1.5" transform="rotate(100 140.4 647.9)" fill="#7c7c7c" stroke="#c8c8c8"/>
</g></g>
<g filter="url(#bl2)" mask="url(#mk11)">
<circle cx="174.3" cy="614.3" r="1.4" fill="#e4e4e4"/>
<circle cx="110.5" cy="616.9" r="1.2" fill="#e4e4e4"/>
<circle cx="200.7" cy="650.2" r="1.4" fill="#e4e4e4"/>
<circle cx="100.7" cy="615.6" r="1.4" fill="#e4e4e4"/>
<circle cx="124.3" cy="629.9" r="1.2" fill="#e4e4e4"/>
<circle cx="100.5" cy="662.6" r="1.5" fill="#e4e4e4"/>
<circle cx="121.1" cy="633.9" r="1.1" fill="#e4e4e4"/>
<circle cx="138.8" cy="628.0" r="1.1" fill="#e4e4e4"/>
<circle cx="134.8" cy="616.8" r="1.4" fill="#e4e4e4"/>
<circle cx="126.3" cy="602.1" r="1.4" fill="#e4e4e4"/>
</g>
<filter id="tx12" x="0" y="0" width="100%" height="100%" color-interpolation-filters="sRGB"><feTurbulence type="fractalNoise" baseFrequency="0.38" numOctaves="2" seed="12"/><feColorMatrix type="matrix" values="1 0 0 0 0 1 0 0 0 0 1 0 0 0 0 0 0 0 0 1"/><feComponentTransfer><feFuncR type="table" tableValues="0.46 0.465 0.47 0.48 0.495 0.515 0.55 0.62 0.72 0.80 0.85"/><feFuncG type="table" tableValues="0.46 0.465 0.47 0.48 0.495 0.515 0.55 0.62 0.72 0.80 0.85"/><feFuncB type="table" tableValues="0.46 0.465 0.47 0.48 0.495 0.515 0.55 0.62 0.72 0.80 0.85"/></feComponentTransfer></filter>
<mask id="mk12" maskUnits="userSpaceOnUse" x="207.2" y="583.8" width="110.1" height="82.4"><g filter="url(#mb)">
<rect x="202.2" y="578.8" width="120.1" height="92.4" fill="#fff"/>
<circle cx="224.9" cy="599.7" r="16.6" fill="#222"/>
<circle cx="259.2" cy="620.7" r="8.8" fill="#222"/>
<circle cx="308.9" cy="646.1" r="11.1" fill="#222"/>
<circle cx="264.7" cy="658.3" r="6.6" fill="#222"/>
<circle cx="305.6" cy="595.3" r="6.6" fill="#222"/>
</g></mask>
<rect x="207.2" y="583.8" width="110.1" height="82.4" fill="#838383"/>
<rect x="207.2" y="583.8" width="110.1" height="82.4" filter="url(#tx12)" mask="url(#mk12)"/>
<clipPath id="cp12"><rect x="207.2" y="583.8" width="110.1" height="82.4"/></clipPath>
<g clip-path="url(#cp12)"><g filter="url(#bl)" stroke-width="0.65" fill-opacity="0.55" stroke-opacity="0.85">
<ellipse cx="259.6" cy="637.3" rx="1.9" ry="1.2" transform="rotate(15 259.6 637.3)" fill="#707070" stroke="#b0b0b0"/>
<ellipse cx="279.9" cy="597.0" rx="3.1" ry="1.1" transform="rotate(124 279.9 597.0)" fill="#7c7c7c" stroke="#e0e0e0"/>
<ellipse cx="210.4" cy="615.2" rx="3.1" ry="1.8" transform="rotate(117 210.4 615.2)" fill="#7c7c7c" stroke="#b0b0b0"/>
<ellipse cx="238.3" cy="649.3" rx="2.1" ry="1.9" transform="rotate(86 238.3 649.3)" fill="#767676" stroke="#bcbcbc"/>
<ellipse cx="282.5" cy="633.0" rx="2.9" ry="1.5" transform="rotate(98 282.5 633.0)" fill="#707070" stroke="#a6a6a6"/>
<ellipse cx="268.4" cy="637.6" rx="2.3" ry="1.7" transform="rotate(61 268.4 637.6)" fill="#7c7c7c" stroke="#b0b0b0"/>
<ellipse cx="224.6" cy="620.3" rx="3.1" ry="1.4" transform="rotate(54 224.6 620.3)" fill="#7c7c7c" stroke="#c8c8c8"/>
<ellipse cx="226.4" cy="656.8" rx="2.0" ry="1.4" transform="rotate(36 226.4 656.8)" fill="#767676" stroke="#b0b0b0"/>
<ellipse cx="215.4" cy="650.0" rx="2.4" ry="1.4" transform="rotate(73 215.4 650.0)" fill="#767676" stroke="#a6a6a6"/>
<ellipse cx="217.1" cy="639.7" rx="2.6" ry="1.8" transform="rotate(159 217.1 639.7)" fill="#767676" stroke="#c8c8c8"/>
<ellipse cx="245.0" cy="617.5" rx="2.1" ry="1.7" transform="rotate(96 245.0 617.5)" fill="#707070" stroke="#a6a6a6"/>
<ellipse cx="298.6" cy="587.3" rx="2.1" ry="1.4" transform="rotate(110 298.6 587.3)" fill="#7c7c7c" stroke="#bcbcbc"/>
<ellipse cx="215.6" cy="657.5" rx="2.7" ry="1.5" transform="rotate(50 215.6 657.5)" fill="#767676" stroke="#a6a6a6"/>
<ellipse cx="263.2" cy="592.9" rx="3.2" ry="1.2" transform="rotate(106 263.2 592.9)" fill="#707070" stroke="#c8c8c8"/>
<ellipse cx="313.9" cy="660.0" rx="2.3" ry="1.2" transform="rotate(112 313.9 660.0)" fill="#767676" stroke="#a6a6a6"/>
<ellipse cx="221.1" cy="619.0" rx="2.3" ry="1.4" transform="rotate(163 221.1 619.0)" fill="#7c7c7c" stroke="#a6a6a6"/>
<ellipse cx="275.1" cy="598.6" rx="2.6" ry="1.2" transform="rotate(112 275.1 598.6)" fill="#767676" stroke="#bcbcbc"/>
<ellipse cx="283.1" cy="589.8" rx="2.7" ry="1.7" transform="rotate(155 283.1 589.8)" fill="#767676" stroke="#bcbcbc"/>
<ellipse cx="227.4" cy="649.8" rx="2.3" ry="2.0" transform="rotate(116 227.4 649.8)" fill="#7c7c7c" stroke="#b0b0b0"/>
<ellipse cx="272.4" cy="623.2" rx="2.3" ry="1.6" transform="rotate(150 272.4 623.2)" fill="#707070" stroke="#e0e0e0"/>
<ellipse cx="250.0" cy="588.2" rx="3.0" ry="1.2" transform="rotate(87 250.0 588.2)" fill="#7c7c7c" stroke="#b0b0b0"/>
<ellipse cx="286.3" cy="661.6" rx="2.2" ry="1.8" transform="rotate(41 286.3 661.6)" fill="#7c7c7c" stroke="#b0b0b0"/>
<ellipse cx="247.0" cy="614.3" rx="2.1" ry="1.3" transform="rotate(115 247.0 614.3)" fill="#7c7c7c" stroke="#bcbcbc"/>
<ellipse cx="282.4" cy="638.6" rx="2.1" ry="1.8" transform="rotate(56 282.4 638.6)" fill="#767676" stroke="#bcbcbc"/>
<ellipse cx="247.7" cy="625.9" rx="2.3" ry="1.5" transform="rotate(65 247.7 625.9)" fill="#707070" stroke="#bcbcbc"/>
<ellipse cx="295.2" cy="625.0" rx="2.6" ry="1.8" transform="rotate(87 295.2 625.0)" fill="#7c7c7c" stroke="#e0e0e0"/>
<ellipse cx="212.2" cy="650.3" rx="2.3" ry="1.5" transform="rotate(25 212.2 650.3)" fill="#7c7c7c" stroke="#b0b0b0"/>
<ellipse cx="232.8" cy="619.3" rx="2.9" ry="1.5" transform="rotate(174 232.8 619.3)" fill="#707070" stroke="#c8c8c8"/>
<ellipse cx="250.4" cy="646.3" rx="2.8" ry="1.6" transform="rotate(104 250.4 646.3)" fill="#767676" stroke="#bcbcbc"/>
<ellipse cx="220.1" cy="628.9" rx="2.4" ry="1.8" transform="rotate(26 220.1 628.9)" fill="#707070" stroke="#c8c8c8"/>
<ellipse cx="228.1" cy="640.4" rx="2.5" ry="1.3" transform="rotate(38 228.1 640.4)" fill="#767676" stroke="#e0e0e0"/>
<ellipse cx="245.7" cy="635.7" rx="2.5" ry="1.4" transform="rotate(17 245.7 635.7)" fill="#707070" stroke="#bcbcbc"/>
<ellipse cx="214.7" cy="621.8" rx="3.0" ry="1.4" transform="rotate(95 214.7 621.8)" fill="#7c7c7c" stroke="#a6a6a6"/>
<ellipse cx="227.0" cy="658.3" rx="2.9" ry="1.8" transform="rotate(23 227.0 658.3)" fill="#7c7c7c" stroke="#bcbcbc"/>
<ellipse cx="247.8" cy="600.6" rx="2.0" ry="1.3" transform="rotate(6 247.8 600.6)" fill="#767676" stroke="#e0e0e0"/>
<ellipse cx="288.6" cy="657.3" rx="2.0" ry="1.7" transform="rotate(33 288.6 657.3)" fill="#7c7c7c" stroke="#e0e0e0"/>
<ellipse cx="209.9" cy="606.8" rx="1.9" ry="1.4" transform="rotate(178 209.9 606.8)" fill="#767676" stroke="#c8c8c8"/>
<ellipse cx="291.0" cy="612.6" rx="3.0" ry="1.2" transform="rotate(98 291.0 612.6)" fill="#767676" stroke="#e0e0e0"/>
<ellipse cx="213.4" cy="634.3" rx="2.6" ry="1.9" transform="rotate(161 213.4 634.3)" fill="#767676" stroke="#e0e0e0"/>
<ellipse cx="313.6" cy="664.1" rx="2.6" ry="1.9" transform="rotate(67 313.6 664.1)" fill="#707070" stroke="#bcbcbc"/>
<ellipse cx="262.6" cy="587.7" rx="2.3" ry="1.2" transform="rotate(122 262.6 587.7)" fill="#767676" stroke="#a6a6a6"/>
<ellipse cx="243.4" cy="647.5" rx="2.1" ry="1.5" transform="rotate(144 243.4 647.5)" fill="#7c7c7c" stroke="#c8c8c8"/>
<ellipse cx="297.5" cy="635.9" rx="1.9" ry="1.7" transform="rotate(8 297.5 635.9)" fill="#7c7c7c" stroke="#a6a6a6"/>
<ellipse cx="233.6" cy="627.1" rx="3.1" ry="1.7" transform="rotate(62 233.6 627.1)" fill="#707070" stroke="#b0b0b0"/>
<ellipse cx="259.9" cy="635.0" rx="2.0" ry="1.8" transform="rotate(12 259.9 635.0)" fill="#707070" stroke="#bcbcbc"/>
<ellipse cx="237.1" cy="660.0" rx="2.9" ry="1.6" transform="rotate(30 237.1 660.0)" fill="#767676" stroke="#e0e0e0"/>
<ellipse cx="240.1" cy="654.3" rx="3.2" ry="1.3" transform="rotate(72 240.1 654.3)" fill="#767676" stroke="#bcbcbc"/>
<ellipse cx="238.7" cy="659.8" rx="2.4" ry="1.5" transform="rotate(59 238.7 659.8)" fill="#767676" stroke="#bcbcbc"/>
<ellipse cx="263.9" cy="640.4" rx="2.9" ry="1.4" transform="rotate(136 263.9 640.4)" fill="#707070" stroke="#c8c8c8"/>
<ellipse cx="284.0" cy="602.6" rx="2.0" ry="1.1" transform="rotate(112 284.0 602.6)" fill="#767676" stroke="#a6a6a6"/>
<ellipse cx="281.7" cy="640.2" rx="1.9" ry="1.5" transform="rotate(75 281.7 640.2)" fill="#707070" stroke="#a6a6a6"/>
<ellipse cx="223.2" cy="655.3" rx="2.6" ry="1.6" transform="rotate(95 223.2 655.3)" fill="#707070" stroke="#e0e0e0"/>
<ellipse cx="253.8" cy="604.7" rx="2.2" ry="1.9" transform="rotate(57 253.8 604.7)" fill="#767676" stroke="#b0b0b0"/>
<ellipse cx="255.4" cy="662.6" rx="2.1" ry="1.6" transform="rotate(141 255.4 662.6)" fill="#707070" stroke="#bcbcbc"/>
<ellipse cx="268.6" cy="634.8" rx="1.9" ry="2.0" transform="rotate(110 268.6 634.8)" fill="#7c7c7c" stroke="#c8c8c8"/>
<ellipse cx="306.8" cy="661.2" rx="2.3" ry="1.3" transform="rotate(8 306.8 661.2)" fill="#767676" stroke="#bcbcbc"/>
<ellipse cx="289.9" cy="618.5" rx="2.2" ry="1.1" transform="rotate(173 289.9 618.5)" fill="#7c7c7c" stroke="#a6a6a6"/>
<ellipse cx="271.6" cy="656.4" rx="2.8" ry="1.9" transform="rotate(155 271.6 656.4)" fill="#707070" stroke="#e0e0e0"/>
<ellipse cx="292.9" cy="631.3" rx="3.0" ry="1.7" transform="rotate(89 292.9 631.3)" fill="#7c7c7c" stroke="#bcbcbc"/>
<ellipse cx="246.1" cy="614.7" rx="2.1" ry="1.9" transform="rotate(96 246.1 614.7)" fill="#7c7c7c" stroke="#c8c8c8"/>
<ellipse cx="287.3" cy="630.0" rx="2.3" ry="1.3" transform="rotate(166 287.3 630.0)" fill="#7c7c7c" stroke="#bcbcbc"/>
<ellipse cx="211.0" cy="641.5" rx="2.8" ry="1.6" transform="rotate(129 211.0 641.5)" fill="#707070" stroke="#bcbcbc"/>
<ellipse cx="304.4" cy="657.2" rx="2.1" ry="1.5" transform="rotate(32 304.4 657.2)" fill="#707070" stroke="#e0e0e0"/>
<ellipse cx="266.0" cy="647.7" rx="2.3" ry="2.0" transform="rotate(123 266.0 647.7)" fill="#707070" stroke="#e0e0e0"/>
<ellipse cx="249.5" cy="593.5" rx="2.4" ry="1.5" transform="rotate(36 249.5 593.5)" fill="#7c7c7c" stroke="#e0e0e0"/>
<ellipse cx="246.7" cy="610.3" rx="2.1" ry="1.6" transform="rotate(15 246.7 610.3)" fill="#7c7c7c" stroke="#bcbcbc"/>
<ellipse cx="266.7" cy="634.6" rx="2.3" ry="1.6" transform="rotate(31 266.7 634.6)" fill="#767676" stroke="#bcbcbc"/>
<ellipse cx="222.4" cy="627.7" rx="2.8" ry="1.5" transform="rotate(160 222.4 627.7)" fill="#707070" stroke="#bcbcbc"/>
<ellipse cx="283.5" cy="616.7" rx="3.0" ry="1.5" transform="rotate(179 283.5 616.7)" fill="#7c7c7c" stroke="#e0e0e0"/>
<ellipse cx="235.3" cy="617.7" rx="2.1" ry="1.9" transform="rotate(175 235.3 617.7)" fill="#767676" stroke="#bcbcbc"/>
<ellipse cx="243.5" cy="639.5" rx="2.5" ry="1.6" transform="rotate(94 243.5 639.5)" fill="#767676" stroke="#a6a6a6"/>
<ellipse cx="242.4" cy="640.3" rx="1.9" ry="1.2" transform="rotate(49 242.4 640.3)" fill="#7c7c7c" stroke="#e0e0e0"/>
<ellipse cx="289.8" cy="637.5" rx="2.7" ry="1.5" transform="rotate(7 289.8 637.5)" fill="#707070" stroke="#e0e0e0"/>
<ellipse cx="308.4" cy="614.5" rx="3.1" ry="1.7" transform="rotate(138 308.4 614.5)" fill="#707070" stroke="#e0e0e0"/>
<ellipse cx="212.4" cy="624.0" rx="2.7" ry="1.7" transform="rotate(3 212.4 624.0)" fill="#7c7c7c" stroke="#b0b0b0"/>
<ellipse cx="256.3" cy="599.9" rx="2.5" ry="1.5" transform="rotate(100 256.3 599.9)" fill="#767676" stroke="#b0b0b0"/>
<ellipse cx="280.0" cy="612.6" rx="2.7" ry="1.7" transform="rotate(151 280.0 612.6)" fill="#7c7c7c" stroke="#b0b0b0"/>
<ellipse cx="309.3" cy="586.4" rx="2.0" ry="1.4" transform="rotate(143 309.3 586.4)" fill="#707070" stroke="#c8c8c8"/>
<ellipse cx="247.4" cy="607.7" rx="3.0" ry="2.0" transform="rotate(2 247.4 607.7)" fill="#707070" stroke="#b0b0b0"/>
<ellipse cx="230.6" cy="619.7" rx="1.8" ry="1.8" transform="rotate(67 230.6 619.7)" fill="#7c7c7c" stroke="#a6a6a6"/>
<ellipse cx="232.6" cy="657.8" rx="2.3" ry="1.9" transform="rotate(105 232.6 657.8)" fill="#7c7c7c" stroke="#c8c8c8"/>
<ellipse cx="262.4" cy="640.5" rx="2.9" ry="1.2" transform="rotate(126 262.4 640.5)" fill="#767676" stroke="#c8c8c8"/>
<ellipse cx="226.4" cy="622.2" rx="3.1" ry="1.9" transform="rotate(180 226.4 622.2)" fill="#767676" stroke="#b0b0b0"/>
<ellipse cx="273.6" cy="651.9" rx="2.2" ry="1.7" transform="rotate(159 273.6 651.9)" fill="#767676" stroke="#a6a6a6"/>
<ellipse cx="235.7" cy="621.8" rx="2.5" ry="1.1" transform="rotate(15 235.7 621.8)" fill="#707070" stroke="#b0b0b0"/>
<ellipse cx="233.3" cy="628.0" rx="2.1" ry="1.9" transform="rotate(122 233.3 628.0)" fill="#7c7c7c" stroke="#c8c8c8"/>
<ellipse cx="290.0" cy="616.8" rx="2.9" ry="1.4" transform="rotate(12 290.0 616.8)" fill="#7c7c7c" stroke="#bcbcbc"/>
<ellipse cx="280.6" cy="637.8" rx="2.4" ry="1.7" transform="rotate(134 280.6 637.8)" fill="#767676" stroke="#c8c8c8"/>
<ellipse cx="312.4" cy="629.2" rx="2.6" ry="2.0" transform="rotate(43 312.4 629.2)" fill="#707070" stroke="#b0b0b0"/>
<ellipse cx="281.4" cy="613.3" rx="2.2" ry="1.5" transform="rotate(56 281.4 613.3)" fill="#707070" stroke="#bcbcbc"/>
<ellipse cx="286.9" cy="611.1" rx="2.9" ry="1.5" transform="rotate(14 286.9 611.1)" fill="#767676" stroke="#a6a6a6"/>
<ellipse cx="241.8" cy="596.5" rx="1.8" ry="1.5" transform="rotate(64 241.8 596.5)" fill="#767676" stroke="#a6a6a6"/>
<ellipse cx="233.1" cy="628.5" rx="2.3" ry="1.2" transform="rotate(76 233.1 628.5)" fill="#707070" stroke="#a6a6a6"/>
<ellipse cx="294.5" cy="608.2" rx="1.9" ry="1.2" transform="rotate(167 294.5 608.2)" fill="#707070" stroke="#e0e0e0"/>
<ellipse cx="308.5" cy="632.7" rx="2.8" ry="1.3" transform="rotate(20 308.5 632.7)" fill="#707070" stroke="#bcbcbc"/>
<ellipse cx="250.5" cy="654.3" rx="2.9" ry="1.6" transform="rotate(16 250.5 654.3)" fill="#707070" stroke="#bcbcbc"/>
<ellipse cx="304.4" cy="611.0" rx="3.2" ry="1.7" transform="rotate(16 304.4 611.0)" fill="#7c7c7c" stroke="#b0b0b0"/>
<ellipse cx="222.6" cy="636.1" rx="2.3" ry="1.5" transform="rotate(25 222.6 636.1)" fill="#7c7c7c" stroke="#bcbcbc"/>
<ellipse cx="298.6" cy="633.5" rx="2.5" ry="1.5" transform="rotate(33 298.6 633.5)" fill="#767676" stroke="#bcbcbc"/>
<ellipse cx="292.4" cy="618.1" rx="2.4" ry="1.2" transform="rotate(11 292.4 618.1)" fill="#707070" stroke="#c8c8c8"/>
<ellipse cx="274.7" cy="606.4" rx="1.9" ry="1.8" transform="rotate(138 274.7 606.4)" fill="#767676" stroke="#b0b0b0"/>
<ellipse cx="250.0" cy="617.1" rx="2.0" ry="1.5" transform="rotate(75 250.0 617.1)" fill="#767676" stroke="#b0b0b0"/>
<ellipse cx="294.8" cy="599.1" rx="3.0" ry="1.1" transform="rotate(177 294.8 599.1)" fill="#707070" stroke="#b0b0b0"/>
<ellipse cx="312.2" cy="626.8" rx="2.5" ry="1.7" transform="rotate(76 312.2 626.8)" fill="#767676" stroke="#e0e0e0"/>
<ellipse cx="214.8" cy="651.3" rx="2.7" ry="1.5" transform="rotate(154 214.8 651.3)" fill="#707070" stroke="#e0e0e0"/>
<ellipse cx="247.3" cy="643.4" rx="2.6" ry="1.5" transform="rotate(113 247.3 643.4)" fill="#707070" stroke="#e0e0e0"/>
<ellipse cx="241.6" cy="596.6" rx="3.1" ry="1.8" transform="rotate(59 241.6 596.6)" fill="#767676" stroke="#bcbcbc"/>
<ellipse cx="231.6" cy="654.8" rx="2.2" ry="1.6" transform="rotate(140 231.6 654.8)" fill="#707070" stroke="#bcbcbc"/>
<ellipse cx="211.8" cy="610.0" rx="3.0" ry="1.8" transform="rotate(4 211.8 610.0)" fill="#7c7c7c" stroke="#c8c8c8"/>
<ellipse cx="226.5" cy="641.9" rx="2.9" ry="1.7" transform="rotate(157 226.5 641.9)" fill="#7c7c7c" stroke="#e0e0e0"/>
<ellipse cx="300.7" cy="633.4" rx="2.4" ry="1.5" transform="rotate(32 300.7 633.4)" fill="#7c7c7c" stroke="#a6a6a6"/>
<ellipse cx="220.1" cy="639.5" rx="2.5" ry="1.7" transform="rotate(166 220.1 639.5)" fill="#707070" stroke="#bcbcbc"/>
<ellipse cx="265.2" cy="636.9" rx="3.1" ry="1.6" transform="rotate(157 265.2 636.9)" fill="#7c7c7c" stroke="#bcbcbc"/>
<ellipse cx="294.2" cy="625.4" rx="2.2" ry="1.7" transform="rotate(101 294.2 625.4)" fill="#767676" stroke="#c8c8c8"/>
<ellipse cx="276.6" cy="622.4" rx="2.7" ry="1.5" transform="rotate(118 276.6 622.4)" fill="#707070" stroke="#e0e0e0"/>
<ellipse cx="276.5" cy="616.3" rx="2.0" ry="1.7" transform="rotate(94 276.5 616.3)" fill="#7c7c7c" stroke="#b0b0b0"/>
<ellipse cx="285.1" cy="607.6" rx="2.5" ry="1.1" transform="rotate(138 285.1 607.6)" fill="#707070" stroke="#e0e0e0"/>
<ellipse cx="307.3" cy="624.3" rx="1.8" ry="1.9" transform="rotate(78 307.3 624.3)" fill="#7c7c7c" stroke="#c8c8c8"/>
<ellipse cx="273.7" cy="644.9" rx="3.1" ry="1.7" transform="rotate(152 273.7 644.9)" fill="#707070" stroke="#c8c8c8"/>
<ellipse cx="298.2" cy="595.9" rx="2.0" ry="1.2" transform="rotate(171 298.2 595.9)" fill="#767676" stroke="#b0b0b0"/>
</g></g>
<g filter="url(#bl2)" mask="url(#mk12)">
<circle cx="279.9" cy="635.5" r="1.1" fill="#e4e4e4"/>
<circle cx="268.3" cy="639.2" r="1.0" fill="#e4e4e4"/>
<circle cx="235.7" cy="657.4" r="1.0" fill="#e4e4e4"/>
<circle cx="261.1" cy="621.5" r="1.4" fill="#e4e4e4"/>
<circle cx="299.4" cy="645.2" r="1.3" fill="#e4e4e4"/>
<circle cx="266.5" cy="593.8" r="1.3" fill="#e4e4e4"/>
<circle cx="255.3" cy="644.5" r="1.2" fill="#e4e4e4"/>
<circle cx="222.9" cy="616.1" r="1.5" fill="#e4e4e4"/>
</g>
<filter id="tx13" x="0" y="0" width="100%" height="100%" color-interpolation-filters="sRGB"><feTurbulence type="fractalNoise" baseFrequency="0.38" numOctaves="2" seed="13"/><feColorMatrix type="matrix" values="1 0 0 0 0 1 0 0 0 0 1 0 0 0 0 0 0 0 0 1"/><feComponentTransfer><feFuncR type="table" tableValues="0.46 0.465 0.47 0.48 0.495 0.515 0.55 0.62 0.72 0.80 0.85"/><feFuncG type="table" tableValues="0.46 0.465 0.47 0.48 0.495 0.515 0.55 0.62 0.72 0.80 0.85"/><feFuncB type="table" tableValues="0.46 0.465 0.47 0.48 0.495 0.515 0.55 0.62 0.72 0.80 0.85"/></feComponentTransfer></filter>
<mask id="mk13" maskUnits="userSpaceOnUse" x="317.3" y="583.8" width="110.7" height="82.4"><g filter="url(#mb)">
<rect x="312.3" y="578.8" width="120.7" height="92.4" fill="#000"/>
<ellipse cx="348.2" cy="598.6" rx="12.2" ry="10.9" fill="#fff"/>
<ellipse cx="385.8" cy="597.5" rx="10.0" ry="9.0" fill="#fff"/>
<ellipse cx="412.3" cy="593.1" rx="7.7" ry="7.0" fill="#fff"/>
<ellipse cx="407.9" cy="614.1" rx="11.1" ry="10.0" fill="#fff"/>
<ellipse cx="334.9" cy="628.4" rx="16.6" ry="14.9" fill="#fff"/>
<ellipse cx="372.5" cy="621.8" rx="11.1" ry="10.0" fill="#fff"/>
<ellipse cx="403.5" cy="629.5" rx="10.0" ry="9.0" fill="#fff"/>
<ellipse cx="368.1" cy="647.2" rx="10.0" ry="9.0" fill="#fff"/>
<ellipse cx="423.4" cy="637.3" rx="5.5" ry="5.0" fill="#fff"/>
<ellipse cx="326.1" cy="650.6" rx="6.6" ry="6.0" fill="#fff"/>
<ellipse cx="403.5" cy="653.9" rx="6.6" ry="6.0" fill="#fff"/>
<ellipse cx="352.6" cy="660.5" rx="5.5" ry="5.0" fill="#fff"/>
<ellipse cx="421.2" cy="657.2" rx="5.5" ry="5.0" fill="#fff"/>
</g></mask>
<rect x="317.3" y="583.8" width="110.7" height="82.4" fill="#7f7f7f"/>
<rect x="317.3" y="583.8" width="110.7" height="82.4" filter="url(#tx13)" mask="url(#mk13)"/>
<clipPath id="cp13"><rect x="317.3" y="583.8" width="110.7" height="82.4"/></clipPath>
<g clip-path="url(#cp13)"><g filter="url(#bl)" stroke-width="0.65" fill-opacity="0.55" stroke-opacity="0.85">
<ellipse cx="347.6" cy="607.2" rx="3.1" ry="1.8" transform="rotate(150 347.6 607.2)" fill="#7c7c7c" stroke="#a6a6a6"/>
<ellipse cx="343.9" cy="589.8" rx="2.1" ry="1.4" transform="rotate(17 343.9 589.8)" fill="#707070" stroke="#bcbcbc"/>
<ellipse cx="350.4" cy="603.2" rx="2.8" ry="1.6" transform="rotate(10 350.4 603.2)" fill="#7c7c7c" stroke="#bcbcbc"/>
<ellipse cx="351.5" cy="602.5" rx="2.8" ry="1.1" transform="rotate(83 351.5 602.5)" fill="#767676" stroke="#a6a6a6"/>
<ellipse cx="347.8" cy="594.9" rx="2.6" ry="1.6" transform="rotate(145 347.8 594.9)" fill="#767676" stroke="#e0e0e0"/>
<ellipse cx="342.9" cy="597.6" rx="1.9" ry="1.9" transform="rotate(95 342.9 597.6)" fill="#767676" stroke="#a6a6a6"/>
<ellipse cx="346.1" cy="605.2" rx="2.3" ry="1.2" transform="rotate(37 346.1 605.2)" fill="#767676" stroke="#a6a6a6"/>
<ellipse cx="352.9" cy="591.7" rx="2.6" ry="1.8" transform="rotate(168 352.9 591.7)" fill="#707070" stroke="#a6a6a6"/>
<ellipse cx="354.2" cy="599.1" rx="3.2" ry="1.5" transform="rotate(74 354.2 599.1)" fill="#7c7c7c" stroke="#e0e0e0"/>
<ellipse cx="354.7" cy="606.3" rx="1.9" ry="1.3" transform="rotate(1 354.7 606.3)" fill="#767676" stroke="#e0e0e0"/>
<ellipse cx="352.0" cy="589.9" rx="3.2" ry="1.9" transform="rotate(96 352.0 589.9)" fill="#7c7c7c" stroke="#c8c8c8"/>
<ellipse cx="352.8" cy="590.6" rx="2.2" ry="1.3" transform="rotate(175 352.8 590.6)" fill="#7c7c7c" stroke="#b0b0b0"/>
<ellipse cx="358.0" cy="595.7" rx="2.0" ry="1.2" transform="rotate(12 358.0 595.7)" fill="#7c7c7c" stroke="#c8c8c8"/>
<ellipse cx="347.7" cy="608.2" rx="2.1" ry="1.2" transform="rotate(3 347.7 608.2)" fill="#707070" stroke="#bcbcbc"/>
<ellipse cx="338.2" cy="599.3" rx="1.9" ry="1.5" transform="rotate(177 338.2 599.3)" fill="#7c7c7c" stroke="#bcbcbc"/>
<ellipse cx="341.2" cy="595.9" rx="2.9" ry="1.5" transform="rotate(15 341.2 595.9)" fill="#7c7c7c" stroke="#c8c8c8"/>
<ellipse cx="343.2" cy="603.7" rx="2.0" ry="1.1" transform="rotate(112 343.2 603.7)" fill="#7c7c7c" stroke="#e0e0e0"/>
<ellipse cx="346.6" cy="601.9" rx="2.9" ry="1.8" transform="rotate(16 346.6 601.9)" fill="#767676" stroke="#c8c8c8"/>
<ellipse cx="389.3" cy="590.6" rx="2.4" ry="1.3" transform="rotate(51 389.3 590.6)" fill="#7c7c7c" stroke="#e0e0e0"/>
<ellipse cx="393.6" cy="596.8" rx="2.6" ry="1.9" transform="rotate(50 393.6 596.8)" fill="#707070" stroke="#bcbcbc"/>
<ellipse cx="378.1" cy="595.0" rx="3.0" ry="1.2" transform="rotate(8 378.1 595.0)" fill="#767676" stroke="#b0b0b0"/>
<ellipse cx="390.9" cy="602.7" rx="2.0" ry="2.0" transform="rotate(112 390.9 602.7)" fill="#707070" stroke="#b0b0b0"/>
<ellipse cx="382.0" cy="598.7" rx="2.5" ry="1.6" transform="rotate(8 382.0 598.7)" fill="#7c7c7c" stroke="#e0e0e0"/>
<ellipse cx="387.8" cy="603.4" rx="2.4" ry="1.7" transform="rotate(42 387.8 603.4)" fill="#767676" stroke="#a6a6a6"/>
<ellipse cx="385.6" cy="603.2" rx="2.0" ry="1.7" transform="rotate(88 385.6 603.2)" fill="#767676" stroke="#b0b0b0"/>
<ellipse cx="381.1" cy="594.2" rx="2.4" ry="1.5" transform="rotate(25 381.1 594.2)" fill="#7c7c7c" stroke="#b0b0b0"/>
<ellipse cx="390.3" cy="601.8" rx="2.5" ry="1.3" transform="rotate(27 390.3 601.8)" fill="#707070" stroke="#c8c8c8"/>
<ellipse cx="386.2" cy="601.6" rx="2.3" ry="1.4" transform="rotate(63 386.2 601.6)" fill="#707070" stroke="#bcbcbc"/>
<ellipse cx="387.7" cy="602.3" rx="2.0" ry="1.2" transform="rotate(30 387.7 602.3)" fill="#707070" stroke="#c8c8c8"/>
<ellipse cx="392.6" cy="600.5" rx="2.9" ry="1.6" transform="rotate(139 392.6 600.5)" fill="#767676" stroke="#c8c8c8"/>
<ellipse cx="391.4" cy="596.0" rx="2.6" ry="1.8" transform="rotate(112 391.4 596.0)" fill="#707070" stroke="#c8c8c8"/>
<ellipse cx="410.9" cy="586.8" rx="2.4" ry="1.5" transform="rotate(164 410.9 586.8)" fill="#767676" stroke="#c8c8c8"/>
<ellipse cx="415.0" cy="593.7" rx="1.9" ry="1.3" transform="rotate(30 415.0 593.7)" fill="#7c7c7c" stroke="#e0e0e0"/>
<ellipse cx="414.6" cy="587.4" rx="1.9" ry="1.5" transform="rotate(19 414.6 587.4)" fill="#7c7c7c" stroke="#e0e0e0"/>
<ellipse cx="410.4" cy="591.0" rx="2.4" ry="1.2" transform="rotate(140 410.4 591.0)" fill="#7c7c7c" stroke="#b0b0b0"/>
<ellipse cx="406.4" cy="596.2" rx="2.8" ry="1.1" transform="rotate(175 406.4 596.2)" fill="#767676" stroke="#b0b0b0"/>
<ellipse cx="417.3" cy="589.2" rx="2.2" ry="1.5" transform="rotate(139 417.3 589.2)" fill="#7c7c7c" stroke="#bcbcbc"/>
<ellipse cx="414.3" cy="598.9" rx="3.1" ry="1.5" transform="rotate(111 414.3 598.9)" fill="#707070" stroke="#c8c8c8"/>
<ellipse cx="407.9" cy="597.0" rx="2.4" ry="1.6" transform="rotate(10 407.9 597.0)" fill="#707070" stroke="#c8c8c8"/>
<ellipse cx="417.0" cy="598.0" rx="2.9" ry="1.8" transform="rotate(102 417.0 598.0)" fill="#707070" stroke="#c8c8c8"/>
<ellipse cx="400.8" cy="609.2" rx="1.9" ry="1.7" transform="rotate(80 400.8 609.2)" fill="#767676" stroke="#e0e0e0"/>
<ellipse cx="409.9" cy="621.3" rx="2.4" ry="1.9" transform="rotate(24 409.9 621.3)" fill="#707070" stroke="#c8c8c8"/>
<ellipse cx="400.8" cy="610.5" rx="2.5" ry="1.5" transform="rotate(113 400.8 610.5)" fill="#7c7c7c" stroke="#b0b0b0"/>
<ellipse cx="402.2" cy="620.3" rx="2.5" ry="1.6" transform="rotate(11 402.2 620.3)" fill="#7c7c7c" stroke="#c8c8c8"/>
<ellipse cx="404.8" cy="618.4" rx="2.0" ry="1.8" transform="rotate(5 404.8 618.4)" fill="#707070" stroke="#e0e0e0"/>
<ellipse cx="412.3" cy="620.8" rx="2.5" ry="1.1" transform="rotate(149 412.3 620.8)" fill="#767676" stroke="#bcbcbc"/>
<ellipse cx="411.7" cy="617.0" rx="2.8" ry="1.5" transform="rotate(173 411.7 617.0)" fill="#707070" stroke="#bcbcbc"/>
<ellipse cx="415.5" cy="617.3" rx="2.9" ry="1.7" transform="rotate(3 415.5 617.3)" fill="#707070" stroke="#e0e0e0"/>
<ellipse cx="400.6" cy="611.7" rx="2.2" ry="1.7" transform="rotate(173 400.6 611.7)" fill="#707070" stroke="#c8c8c8"/>
<ellipse cx="414.6" cy="615.6" rx="2.6" ry="1.3" transform="rotate(84 414.6 615.6)" fill="#707070" stroke="#b0b0b0"/>
<ellipse cx="406.1" cy="616.5" rx="2.8" ry="1.2" transform="rotate(95 406.1 616.5)" fill="#707070" stroke="#bcbcbc"/>
<ellipse cx="418.4" cy="614.2" rx="2.6" ry="1.2" transform="rotate(5 418.4 614.2)" fill="#707070" stroke="#e0e0e0"/>
<ellipse cx="412.1" cy="617.7" rx="2.8" ry="1.9" transform="rotate(122 412.1 617.7)" fill="#707070" stroke="#a6a6a6"/>
<ellipse cx="333.5" cy="639.3" rx="2.4" ry="1.6" transform="rotate(138 333.5 639.3)" fill="#707070" stroke="#bcbcbc"/>
<ellipse cx="344.5" cy="633.0" rx="2.6" ry="1.9" transform="rotate(126 344.5 633.0)" fill="#7c7c7c" stroke="#e0e0e0"/>
<ellipse cx="325.3" cy="638.1" rx="1.9" ry="1.7" transform="rotate(92 325.3 638.1)" fill="#767676" stroke="#bcbcbc"/>
<ellipse cx="344.0" cy="628.7" rx="2.7" ry="1.3" transform="rotate(56 344.0 628.7)" fill="#707070" stroke="#c8c8c8"/>
<ellipse cx="319.4" cy="628.7" rx="1.9" ry="1.5" transform="rotate(42 319.4 628.7)" fill="#767676" stroke="#bcbcbc"/>
<ellipse cx="324.1" cy="627.4" rx="1.8" ry="1.8" transform="rotate(173 324.1 627.4)" fill="#767676" stroke="#e0e0e0"/>
<ellipse cx="330.7" cy="621.7" rx="2.6" ry="1.9" transform="rotate(127 330.7 621.7)" fill="#7c7c7c" stroke="#b0b0b0"/>
<ellipse cx="345.8" cy="630.4" rx="2.9" ry="1.6" transform="rotate(76 345.8 630.4)" fill="#767676" stroke="#bcbcbc"/>
<ellipse cx="346.4" cy="621.9" rx="1.8" ry="1.5" transform="rotate(18 346.4 621.9)" fill="#767676" stroke="#b0b0b0"/>
<ellipse cx="334.2" cy="640.2" rx="2.4" ry="1.2" transform="rotate(160 334.2 640.2)" fill="#767676" stroke="#b0b0b0"/>
<ellipse cx="339.6" cy="622.6" rx="1.9" ry="1.8" transform="rotate(139 339.6 622.6)" fill="#7c7c7c" stroke="#bcbcbc"/>
<ellipse cx="326.9" cy="624.0" rx="2.6" ry="1.9" transform="rotate(84 326.9 624.0)" fill="#767676" stroke="#b0b0b0"/>
<ellipse cx="335.2" cy="636.0" rx="2.5" ry="1.1" transform="rotate(111 335.2 636.0)" fill="#7c7c7c" stroke="#e0e0e0"/>
<ellipse cx="337.6" cy="636.5" rx="3.1" ry="1.2" transform="rotate(73 337.6 636.5)" fill="#707070" stroke="#c8c8c8"/>
<ellipse cx="344.6" cy="630.6" rx="2.6" ry="2.0" transform="rotate(28 344.6 630.6)" fill="#707070" stroke="#e0e0e0"/>
<ellipse cx="346.6" cy="634.8" rx="1.9" ry="1.6" transform="rotate(124 346.6 634.8)" fill="#7c7c7c" stroke="#a6a6a6"/>
<ellipse cx="334.1" cy="627.9" rx="2.9" ry="1.5" transform="rotate(36 334.1 627.9)" fill="#707070" stroke="#bcbcbc"/>
<ellipse cx="335.9" cy="622.3" rx="2.6" ry="1.4" transform="rotate(8 335.9 622.3)" fill="#767676" stroke="#a6a6a6"/>
<ellipse cx="323.3" cy="629.7" rx="3.2" ry="1.5" transform="rotate(123 323.3 629.7)" fill="#7c7c7c" stroke="#c8c8c8"/>
<ellipse cx="330.7" cy="635.1" rx="1.9" ry="1.7" transform="rotate(38 330.7 635.1)" fill="#7c7c7c" stroke="#b0b0b0"/>
<ellipse cx="329.6" cy="630.5" rx="2.7" ry="1.7" transform="rotate(2 329.6 630.5)" fill="#707070" stroke="#c8c8c8"/>
<ellipse cx="338.4" cy="624.9" rx="2.7" ry="1.6" transform="rotate(7 338.4 624.9)" fill="#7c7c7c" stroke="#a6a6a6"/>
<ellipse cx="338.2" cy="622.5" rx="2.9" ry="1.8" transform="rotate(0 338.2 622.5)" fill="#707070" stroke="#c8c8c8"/>
<ellipse cx="331.7" cy="636.8" rx="2.8" ry="1.5" transform="rotate(67 331.7 636.8)" fill="#767676" stroke="#bcbcbc"/>
<ellipse cx="340.4" cy="629.5" rx="2.9" ry="1.7" transform="rotate(45 340.4 629.5)" fill="#767676" stroke="#e0e0e0"/>
<ellipse cx="328.2" cy="635.7" rx="2.1" ry="1.2" transform="rotate(178 328.2 635.7)" fill="#707070" stroke="#b0b0b0"/>
<ellipse cx="346.1" cy="618.6" rx="2.1" ry="1.4" transform="rotate(161 346.1 618.6)" fill="#7c7c7c" stroke="#c8c8c8"/>
<ellipse cx="379.9" cy="623.7" rx="2.7" ry="1.1" transform="rotate(133 379.9 623.7)" fill="#767676" stroke="#bcbcbc"/>
<ellipse cx="379.0" cy="628.0" rx="3.2" ry="1.2" transform="rotate(132 379.0 628.0)" fill="#707070" stroke="#bcbcbc"/>
<ellipse cx="368.1" cy="629.8" rx="1.9" ry="1.9" transform="rotate(80 368.1 629.8)" fill="#767676" stroke="#a6a6a6"/>
<ellipse cx="368.9" cy="620.9" rx="2.6" ry="1.2" transform="rotate(76 368.9 620.9)" fill="#767676" stroke="#bcbcbc"/>
<ellipse cx="377.7" cy="622.0" rx="2.0" ry="1.9" transform="rotate(19 377.7 622.0)" fill="#707070" stroke="#bcbcbc"/>
<ellipse cx="375.2" cy="619.1" rx="2.3" ry="1.3" transform="rotate(16 375.2 619.1)" fill="#767676" stroke="#a6a6a6"/>
<ellipse cx="366.2" cy="622.6" rx="2.1" ry="1.6" transform="rotate(57 366.2 622.6)" fill="#7c7c7c" stroke="#b0b0b0"/>
<ellipse cx="367.2" cy="628.8" rx="2.3" ry="1.5" transform="rotate(124 367.2 628.8)" fill="#767676" stroke="#c8c8c8"/>
<ellipse cx="374.5" cy="629.6" rx="1.9" ry="1.6" transform="rotate(91 374.5 629.6)" fill="#767676" stroke="#a6a6a6"/>
<ellipse cx="367.4" cy="613.9" rx="2.9" ry="1.4" transform="rotate(98 367.4 613.9)" fill="#707070" stroke="#e0e0e0"/>
<ellipse cx="362.5" cy="620.7" rx="3.1" ry="1.2" transform="rotate(118 362.5 620.7)" fill="#707070" stroke="#e0e0e0"/>
<ellipse cx="365.1" cy="624.4" rx="2.7" ry="1.4" transform="rotate(104 365.1 624.4)" fill="#7c7c7c" stroke="#c8c8c8"/>
<ellipse cx="365.5" cy="615.9" rx="2.5" ry="2.0" transform="rotate(19 365.5 615.9)" fill="#7c7c7c" stroke="#bcbcbc"/>
<ellipse cx="375.4" cy="619.9" rx="3.1" ry="1.8" transform="rotate(155 375.4 619.9)" fill="#7c7c7c" stroke="#b0b0b0"/>
<ellipse cx="408.0" cy="634.3" rx="2.8" ry="1.2" transform="rotate(153 408.0 634.3)" fill="#767676" stroke="#c8c8c8"/>
<ellipse cx="406.1" cy="623.8" rx="2.5" ry="1.6" transform="rotate(37 406.1 623.8)" fill="#707070" stroke="#e0e0e0"/>
<ellipse cx="400.6" cy="637.5" rx="3.0" ry="1.5" transform="rotate(79 400.6 637.5)" fill="#707070" stroke="#a6a6a6"/>
<ellipse cx="402.6" cy="631.9" rx="3.0" ry="1.5" transform="rotate(49 402.6 631.9)" fill="#767676" stroke="#bcbcbc"/>
<ellipse cx="405.0" cy="630.0" rx="2.8" ry="1.8" transform="rotate(156 405.0 630.0)" fill="#707070" stroke="#a6a6a6"/>
<ellipse cx="403.0" cy="626.8" rx="1.9" ry="1.9" transform="rotate(137 403.0 626.8)" fill="#7c7c7c" stroke="#bcbcbc"/>
<ellipse cx="401.6" cy="621.8" rx="3.0" ry="1.9" transform="rotate(163 401.6 621.8)" fill="#767676" stroke="#e0e0e0"/>
<ellipse cx="412.0" cy="629.5" rx="1.8" ry="1.2" transform="rotate(103 412.0 629.5)" fill="#767676" stroke="#c8c8c8"/>
<ellipse cx="396.8" cy="632.6" rx="2.3" ry="1.5" transform="rotate(4 396.8 632.6)" fill="#707070" stroke="#a6a6a6"/>
<ellipse cx="407.5" cy="623.3" rx="3.2" ry="1.8" transform="rotate(152 407.5 623.3)" fill="#707070" stroke="#b0b0b0"/>
<ellipse cx="366.0" cy="654.4" rx="1.9" ry="1.3" transform="rotate(179 366.0 654.4)" fill="#7c7c7c" stroke="#c8c8c8"/>
<ellipse cx="372.1" cy="650.2" rx="3.1" ry="2.0" transform="rotate(60 372.1 650.2)" fill="#767676" stroke="#e0e0e0"/>
<ellipse cx="374.6" cy="647.1" rx="2.5" ry="1.2" transform="rotate(105 374.6 647.1)" fill="#707070" stroke="#c8c8c8"/>
<ellipse cx="367.1" cy="654.7" rx="2.4" ry="1.4" transform="rotate(161 367.1 654.7)" fill="#767676" stroke="#e0e0e0"/>
<ellipse cx="367.5" cy="647.4" rx="2.2" ry="1.9" transform="rotate(86 367.5 647.4)" fill="#707070" stroke="#e0e0e0"/>
<ellipse cx="372.8" cy="648.0" rx="2.5" ry="1.9" transform="rotate(132 372.8 648.0)" fill="#707070" stroke="#c8c8c8"/>
<ellipse cx="363.6" cy="654.4" rx="2.3" ry="1.8" transform="rotate(151 363.6 654.4)" fill="#767676" stroke="#e0e0e0"/>
<ellipse cx="368.2" cy="655.1" rx="3.0" ry="1.6" transform="rotate(75 368.2 655.1)" fill="#767676" stroke="#a6a6a6"/>
<ellipse cx="371.8" cy="642.9" rx="2.3" ry="1.4" transform="rotate(114 371.8 642.9)" fill="#707070" stroke="#b0b0b0"/>
<ellipse cx="376.3" cy="646.9" rx="2.5" ry="1.8" transform="rotate(147 376.3 646.9)" fill="#767676" stroke="#e0e0e0"/>
<ellipse cx="363.3" cy="647.7" rx="2.3" ry="1.7" transform="rotate(37 363.3 647.7)" fill="#7c7c7c" stroke="#e0e0e0"/>
<ellipse cx="359.4" cy="649.2" rx="3.0" ry="1.8" transform="rotate(73 359.4 649.2)" fill="#707070" stroke="#e0e0e0"/>
<ellipse cx="421.1" cy="636.8" rx="2.9" ry="1.4" transform="rotate(157 421.1 636.8)" fill="#707070" stroke="#a6a6a6"/>
<ellipse cx="420.8" cy="639.6" rx="2.7" ry="1.2" transform="rotate(10 420.8 639.6)" fill="#7c7c7c" stroke="#bcbcbc"/>
<ellipse cx="424.8" cy="640.6" rx="2.9" ry="1.3" transform="rotate(100 424.8 640.6)" fill="#707070" stroke="#b0b0b0"/>
<ellipse cx="428.0" cy="638.2" rx="2.4" ry="2.0" transform="rotate(1 428.0 638.2)" fill="#707070" stroke="#b0b0b0"/>
<ellipse cx="424.1" cy="638.7" rx="3.1" ry="1.6" transform="rotate(53 424.1 638.7)" fill="#707070" stroke="#a6a6a6"/>
<ellipse cx="323.1" cy="648.9" rx="2.8" ry="1.6" transform="rotate(80 323.1 648.9)" fill="#707070" stroke="#c8c8c8"/>
<ellipse cx="329.4" cy="647.9" rx="2.2" ry="1.3" transform="rotate(6 329.4 647.9)" fill="#767676" stroke="#b0b0b0"/>
<ellipse cx="320.4" cy="649.9" rx="2.2" ry="1.7" transform="rotate(86 320.4 649.9)" fill="#707070" stroke="#bcbcbc"/>
<ellipse cx="327.3" cy="655.3" rx="2.1" ry="1.1" transform="rotate(167 327.3 655.3)" fill="#7c7c7c" stroke="#e0e0e0"/>
<ellipse cx="323.6" cy="647.6" rx="1.8" ry="1.3" transform="rotate(29 323.6 647.6)" fill="#7c7c7c" stroke="#a6a6a6"/>
<ellipse cx="404.4" cy="653.7" rx="2.7" ry="1.4" transform="rotate(41 404.4 653.7)" fill="#7c7c7c" stroke="#a6a6a6"/>
<ellipse cx="405.0" cy="652.2" rx="2.1" ry="1.4" transform="rotate(69 405.0 652.2)" fill="#707070" stroke="#b0b0b0"/>
<ellipse cx="404.8" cy="652.0" rx="3.1" ry="1.3" transform="rotate(166 404.8 652.0)" fill="#767676" stroke="#e0e0e0"/>
<ellipse cx="407.7" cy="655.2" rx="3.1" ry="1.5" transform="rotate(46 407.7 655.2)" fill="#707070" stroke="#b0b0b0"/>
<ellipse cx="406.3" cy="652.6" rx="2.7" ry="1.7" transform="rotate(122 406.3 652.6)" fill="#707070" stroke="#c8c8c8"/>
<ellipse cx="348.5" cy="660.8" rx="2.5" ry="1.9" transform="rotate(111 348.5 660.8)" fill="#767676" stroke="#a6a6a6"/>
<ellipse cx="352.7" cy="663.9" rx="2.5" ry="1.6" transform="rotate(140 352.7 663.9)" fill="#767676" stroke="#bcbcbc"/>
<ellipse cx="356.1" cy="660.7" rx="3.1" ry="1.4" transform="rotate(52 356.1 660.7)" fill="#767676" stroke="#a6a6a6"/>
<ellipse cx="352.8" cy="657.8" rx="2.4" ry="1.6" transform="rotate(30 352.8 657.8)" fill="#707070" stroke="#b0b0b0"/>
<ellipse cx="421.4" cy="658.2" rx="2.9" ry="1.3" transform="rotate(93 421.4 658.2)" fill="#707070" stroke="#c8c8c8"/>
<ellipse cx="420.1" cy="654.3" rx="3.0" ry="1.7" transform="rotate(8 420.1 654.3)" fill="#7c7c7c" stroke="#bcbcbc"/>
<ellipse cx="425.0" cy="655.1" rx="2.3" ry="1.2" transform="rotate(101 425.0 655.1)" fill="#7c7c7c" stroke="#e0e0e0"/>
<ellipse cx="425.2" cy="659.9" rx="2.5" ry="2.0" transform="rotate(92 425.2 659.9)" fill="#707070" stroke="#a6a6a6"/>
</g></g>
<g filter="url(#bl2)" mask="url(#mk13)">
<circle cx="342.1" cy="631.2" r="1.4" fill="#e4e4e4"/>
<circle cx="373.0" cy="616.6" r="1.1" fill="#e4e4e4"/>
<circle cx="408.8" cy="662.6" r="1.3" fill="#e4e4e4"/>
<circle cx="394.7" cy="611.6" r="1.0" fill="#e4e4e4"/>
<circle cx="326.2" cy="633.9" r="1.5" fill="#e4e4e4"/>
<circle cx="392.6" cy="638.2" r="1.5" fill="#e4e4e4"/>
<circle cx="363.5" cy="619.6" r="1.1" fill="#e4e4e4"/>
<circle cx="407.3" cy="639.5" r="1.3" fill="#e4e4e4"/>
</g>
<filter id="tx14" x="0" y="0" width="100%" height="100%" color-interpolation-filters="sRGB"><feTurbulence type="fractalNoise" baseFrequency="0.38" numOctaves="2" seed="14"/><feColorMatrix type="matrix" values="1 0 0 0 0 1 0 0 0 0 1 0 0 0 0 0 0 0 0 1"/><feComponentTransfer><feFuncR type="table" tableValues="0.46 0.465 0.47 0.48 0.495 0.515 0.55 0.62 0.72 0.80 0.85"/><feFuncG type="table" tableValues="0.46 0.465 0.47 0.48 0.495 0.515 0.55 0.62 0.72 0.80 0.85"/><feFuncB type="table" tableValues="0.46 0.465 0.47 0.48 0.495 0.515 0.55 0.62 0.72 0.80 0.85"/></feComponentTransfer></filter>
<mask id="mk14" maskUnits="userSpaceOnUse" x="96.4" y="688.3" width="110.8" height="81.3"><g filter="url(#mb)">
<rect x="91.4" y="683.3" width="120.8" height="91.3" fill="#000"/>
<ellipse cx="142.5" cy="723.6" rx="24.3" ry="21.9" fill="#fff"/>
<ellipse cx="190.1" cy="741.3" rx="12.2" ry="10.9" fill="#fff"/>
<ellipse cx="192.3" cy="710.3" rx="7.7" ry="7.0" fill="#fff"/>
<ellipse cx="106.1" cy="730.2" rx="7.7" ry="7.0" fill="#fff"/>
<ellipse cx="159.1" cy="751.2" rx="7.7" ry="7.0" fill="#fff"/>
<ellipse cx="130.4" cy="762.3" rx="8.8" ry="8.0" fill="#fff"/>
<ellipse cx="103.8" cy="750.1" rx="6.6" ry="6.0" fill="#fff"/>
<ellipse cx="154.7" cy="697.1" rx="5.5" ry="5.0" fill="#fff"/>
<ellipse cx="203.4" cy="699.3" rx="4.4" ry="4.0" fill="#fff"/>
</g></mask>
<rect x="96.4" y="688.3" width="110.8" height="81.3" fill="#848484"/>
<rect x="96.4" y="688.3" width="110.8" height="81.3" filter="url(#tx14)" mask="url(#mk14)"/>
<clipPath id="cp14"><rect x="96.4" y="688.3" width="110.8" height="81.3"/></clipPath>
<g clip-path="url(#cp14)"><g filter="url(#bl)" stroke-width="0.65" fill-opacity="0.55" stroke-opacity="0.85">
<ellipse cx="157.7" cy="734.4" rx="2.9" ry="1.5" transform="rotate(139 157.7 734.4)" fill="#7c7c7c" stroke="#b0b0b0"/>
<ellipse cx="129.6" cy="707.1" rx="3.0" ry="1.8" transform="rotate(44 129.6 707.1)" fill="#7c7c7c" stroke="#e0e0e0"/>
<ellipse cx="141.0" cy="734.0" rx="2.1" ry="1.6" transform="rotate(135 141.0 734.0)" fill="#707070" stroke="#c8c8c8"/>
<ellipse cx="140.7" cy="706.8" rx="2.5" ry="1.2" transform="rotate(155 140.7 706.8)" fill="#707070" stroke="#c8c8c8"/>
<ellipse cx="136.3" cy="739.9" rx="1.9" ry="1.8" transform="rotate(16 136.3 739.9)" fill="#7c7c7c" stroke="#e0e0e0"/>
<ellipse cx="126.3" cy="734.7" rx="2.1" ry="1.9" transform="rotate(19 126.3 734.7)" fill="#7c7c7c" stroke="#c8c8c8"/>
<ellipse cx="150.6" cy="730.3" rx="2.5" ry="1.4" transform="rotate(12 150.6 730.3)" fill="#707070" stroke="#a6a6a6"/>
<ellipse cx="153.8" cy="716.4" rx="3.1" ry="1.4" transform="rotate(49 153.8 716.4)" fill="#767676" stroke="#c8c8c8"/>
<ellipse cx="141.2" cy="742.2" rx="3.2" ry="1.8" transform="rotate(114 141.2 742.2)" fill="#7c7c7c" stroke="#b0b0b0"/>
<ellipse cx="136.5" cy="717.7" rx="2.4" ry="1.1" transform="rotate(11 136.5 717.7)" fill="#707070" stroke="#c8c8c8"/>
<ellipse cx="124.7" cy="718.2" rx="2.1" ry="1.2" transform="rotate(92 124.7 718.2)" fill="#767676" stroke="#bcbcbc"/>
<ellipse cx="152.1" cy="738.0" rx="2.4" ry="1.3" transform="rotate(173 152.1 738.0)" fill="#7c7c7c" stroke="#c8c8c8"/>
<ellipse cx="152.2" cy="732.0" rx="2.3" ry="1.8" transform="rotate(100 152.2 732.0)" fill="#707070" stroke="#c8c8c8"/>
<ellipse cx="151.6" cy="728.3" rx="2.9" ry="1.6" transform="rotate(136 151.6 728.3)" fill="#767676" stroke="#c8c8c8"/>
<ellipse cx="157.1" cy="721.8" rx="2.8" ry="1.8" transform="rotate(39 157.1 721.8)" fill="#767676" stroke="#b0b0b0"/>
<ellipse cx="157.8" cy="722.8" rx="2.1" ry="1.7" transform="rotate(37 157.8 722.8)" fill="#767676" stroke="#bcbcbc"/>
<ellipse cx="125.7" cy="711.4" rx="2.2" ry="1.3" transform="rotate(2 125.7 711.4)" fill="#707070" stroke="#a6a6a6"/>
<ellipse cx="139.6" cy="717.2" rx="3.1" ry="1.6" transform="rotate(40 139.6 717.2)" fill="#707070" stroke="#bcbcbc"/>
<ellipse cx="127.0" cy="714.8" rx="1.9" ry="1.3" transform="rotate(33 127.0 714.8)" fill="#767676" stroke="#e0e0e0"/>
<ellipse cx="145.5" cy="729.4" rx="2.7" ry="1.3" transform="rotate(88 145.5 729.4)" fill="#7c7c7c" stroke="#bcbcbc"/>
<ellipse cx="154.2" cy="713.0" rx="1.9" ry="1.9" transform="rotate(82 154.2 713.0)" fill="#707070" stroke="#a6a6a6"/>
<ellipse cx="147.9" cy="736.7" rx="2.5" ry="1.9" transform="rotate(55 147.9 736.7)" fill="#767676" stroke="#b0b0b0"/>
<ellipse cx="146.6" cy="741.8" rx="2.7" ry="1.1" transform="rotate(175 146.6 741.8)" fill="#767676" stroke="#a6a6a6"/>
<ellipse cx="135.2" cy="723.6" rx="2.2" ry="1.6" transform="rotate(151 135.2 723.6)" fill="#7c7c7c" stroke="#b0b0b0"/>
<ellipse cx="145.4" cy="717.9" rx="1.8" ry="1.4" transform="rotate(44 145.4 717.9)" fill="#767676" stroke="#bcbcbc"/>
<ellipse cx="141.8" cy="727.0" rx="2.2" ry="1.5" transform="rotate(128 141.8 727.0)" fill="#707070" stroke="#c8c8c8"/>
<ellipse cx="142.1" cy="716.6" rx="2.4" ry="1.3" transform="rotate(127 142.1 716.6)" fill="#707070" stroke="#a6a6a6"/>
<ellipse cx="135.6" cy="722.6" rx="2.5" ry="1.6" transform="rotate(138 135.6 722.6)" fill="#767676" stroke="#e0e0e0"/>
<ellipse cx="123.6" cy="725.7" rx="3.1" ry="1.8" transform="rotate(160 123.6 725.7)" fill="#7c7c7c" stroke="#c8c8c8"/>
<ellipse cx="127.3" cy="720.5" rx="2.9" ry="1.4" transform="rotate(69 127.3 720.5)" fill="#767676" stroke="#e0e0e0"/>
<ellipse cx="127.3" cy="724.9" rx="2.8" ry="1.3" transform="rotate(51 127.3 724.9)" fill="#707070" stroke="#bcbcbc"/>
<ellipse cx="136.7" cy="720.0" rx="2.0" ry="2.0" transform="rotate(22 136.7 720.0)" fill="#7c7c7c" stroke="#c8c8c8"/>
<ellipse cx="131.5" cy="725.2" rx="1.9" ry="1.5" transform="rotate(4 131.5 725.2)" fill="#767676" stroke="#bcbcbc"/>
<ellipse cx="157.4" cy="708.5" rx="2.7" ry="1.8" transform="rotate(31 157.4 708.5)" fill="#7c7c7c" stroke="#bcbcbc"/>
<ellipse cx="150.5" cy="726.8" rx="2.0" ry="1.1" transform="rotate(53 150.5 726.8)" fill="#767676" stroke="#b0b0b0"/>
<ellipse cx="137.5" cy="708.5" rx="2.3" ry="1.6" transform="rotate(37 137.5 708.5)" fill="#707070" stroke="#b0b0b0"/>
<ellipse cx="161.8" cy="725.7" rx="2.8" ry="1.6" transform="rotate(139 161.8 725.7)" fill="#7c7c7c" stroke="#bcbcbc"/>
<ellipse cx="156.7" cy="718.9" rx="2.4" ry="1.9" transform="rotate(60 156.7 718.9)" fill="#7c7c7c" stroke="#e0e0e0"/>
<ellipse cx="132.5" cy="736.4" rx="2.9" ry="1.7" transform="rotate(150 132.5 736.4)" fill="#7c7c7c" stroke="#b0b0b0"/>
<ellipse cx="153.6" cy="719.6" rx="2.6" ry="1.1" transform="rotate(153 153.6 719.6)" fill="#707070" stroke="#b0b0b0"/>
<ellipse cx="139.3" cy="732.1" rx="2.8" ry="1.3" transform="rotate(107 139.3 732.1)" fill="#707070" stroke="#bcbcbc"/>
<ellipse cx="131.6" cy="713.3" rx="2.2" ry="1.1" transform="rotate(98 131.6 713.3)" fill="#767676" stroke="#bcbcbc"/>
<ellipse cx="142.0" cy="736.5" rx="2.9" ry="1.4" transform="rotate(45 142.0 736.5)" fill="#767676" stroke="#a6a6a6"/>
<ellipse cx="155.2" cy="726.1" rx="2.4" ry="1.9" transform="rotate(122 155.2 726.1)" fill="#7c7c7c" stroke="#bcbcbc"/>
<ellipse cx="160.1" cy="721.9" rx="2.1" ry="1.7" transform="rotate(42 160.1 721.9)" fill="#707070" stroke="#c8c8c8"/>
<ellipse cx="138.0" cy="743.3" rx="1.9" ry="1.7" transform="rotate(60 138.0 743.3)" fill="#707070" stroke="#bcbcbc"/>
<ellipse cx="135.3" cy="731.7" rx="2.9" ry="1.6" transform="rotate(57 135.3 731.7)" fill="#767676" stroke="#a6a6a6"/>
<ellipse cx="151.2" cy="725.3" rx="2.9" ry="1.4" transform="rotate(9 151.2 725.3)" fill="#7c7c7c" stroke="#b0b0b0"/>
<ellipse cx="146.0" cy="733.1" rx="2.5" ry="2.0" transform="rotate(5 146.0 733.1)" fill="#707070" stroke="#b0b0b0"/>
<ellipse cx="150.8" cy="715.9" rx="2.3" ry="1.6" transform="rotate(143 150.8 715.9)" fill="#767676" stroke="#bcbcbc"/>
<ellipse cx="142.7" cy="739.8" rx="2.6" ry="1.4" transform="rotate(69 142.7 739.8)" fill="#767676" stroke="#bcbcbc"/>
<ellipse cx="153.4" cy="718.0" rx="2.4" ry="1.2" transform="rotate(146 153.4 718.0)" fill="#767676" stroke="#e0e0e0"/>
<ellipse cx="143.6" cy="711.0" rx="2.4" ry="1.3" transform="rotate(22 143.6 711.0)" fill="#7c7c7c" stroke="#a6a6a6"/>
<ellipse cx="126.0" cy="717.6" rx="1.9" ry="1.4" transform="rotate(91 126.0 717.6)" fill="#7c7c7c" stroke="#a6a6a6"/>
<ellipse cx="161.4" cy="717.2" rx="2.6" ry="2.0" transform="rotate(44 161.4 717.2)" fill="#7c7c7c" stroke="#e0e0e0"/>
<ellipse cx="121.4" cy="722.6" rx="2.4" ry="1.5" transform="rotate(21 121.4 722.6)" fill="#767676" stroke="#c8c8c8"/>
<ellipse cx="133.0" cy="733.2" rx="2.0" ry="1.4" transform="rotate(53 133.0 733.2)" fill="#767676" stroke="#bcbcbc"/>
<ellipse cx="159.1" cy="719.8" rx="3.0" ry="1.3" transform="rotate(19 159.1 719.8)" fill="#7c7c7c" stroke="#c8c8c8"/>
<ellipse cx="144.4" cy="712.1" rx="2.4" ry="1.8" transform="rotate(51 144.4 712.1)" fill="#7c7c7c" stroke="#a6a6a6"/>
<ellipse cx="158.1" cy="715.3" rx="2.2" ry="1.6" transform="rotate(24 158.1 715.3)" fill="#7c7c7c" stroke="#e0e0e0"/>
<ellipse cx="142.9" cy="743.7" rx="2.2" ry="1.7" transform="rotate(16 142.9 743.7)" fill="#767676" stroke="#c8c8c8"/>
<ellipse cx="129.3" cy="725.9" rx="3.1" ry="1.3" transform="rotate(54 129.3 725.9)" fill="#767676" stroke="#c8c8c8"/>
<ellipse cx="142.0" cy="730.3" rx="3.0" ry="1.7" transform="rotate(25 142.0 730.3)" fill="#767676" stroke="#b0b0b0"/>
<ellipse cx="148.4" cy="740.1" rx="2.6" ry="1.9" transform="rotate(157 148.4 740.1)" fill="#767676" stroke="#bcbcbc"/>
<ellipse cx="150.0" cy="731.8" rx="2.6" ry="1.9" transform="rotate(128 150.0 731.8)" fill="#767676" stroke="#e0e0e0"/>
<ellipse cx="126.4" cy="728.6" rx="2.2" ry="1.5" transform="rotate(148 126.4 728.6)" fill="#7c7c7c" stroke="#b0b0b0"/>
<ellipse cx="127.6" cy="736.2" rx="2.5" ry="1.4" transform="rotate(42 127.6 736.2)" fill="#767676" stroke="#bcbcbc"/>
<ellipse cx="142.0" cy="736.2" rx="2.4" ry="1.9" transform="rotate(132 142.0 736.2)" fill="#767676" stroke="#a6a6a6"/>
<ellipse cx="135.2" cy="727.0" rx="2.7" ry="1.4" transform="rotate(77 135.2 727.0)" fill="#767676" stroke="#c8c8c8"/>
<ellipse cx="144.1" cy="731.4" rx="3.1" ry="1.5" transform="rotate(144 144.1 731.4)" fill="#767676" stroke="#bcbcbc"/>
<ellipse cx="141.2" cy="715.7" rx="2.8" ry="1.3" transform="rotate(74 141.2 715.7)" fill="#7c7c7c" stroke="#c8c8c8"/>
<ellipse cx="137.2" cy="715.1" rx="2.6" ry="1.5" transform="rotate(34 137.2 715.1)" fill="#767676" stroke="#b0b0b0"/>
<ellipse cx="131.3" cy="710.2" rx="2.2" ry="2.0" transform="rotate(91 131.3 710.2)" fill="#707070" stroke="#b0b0b0"/>
<ellipse cx="129.0" cy="739.6" rx="3.1" ry="1.3" transform="rotate(170 129.0 739.6)" fill="#7c7c7c" stroke="#b0b0b0"/>
<ellipse cx="133.0" cy="710.7" rx="3.1" ry="1.2" transform="rotate(22 133.0 710.7)" fill="#767676" stroke="#bcbcbc"/>
<ellipse cx="156.7" cy="727.4" rx="2.8" ry="1.6" transform="rotate(124 156.7 727.4)" fill="#707070" stroke="#bcbcbc"/>
<ellipse cx="141.0" cy="737.8" rx="2.5" ry="1.4" transform="rotate(173 141.0 737.8)" fill="#7c7c7c" stroke="#e0e0e0"/>
<ellipse cx="162.2" cy="715.7" rx="2.4" ry="1.6" transform="rotate(31 162.2 715.7)" fill="#707070" stroke="#c8c8c8"/>
<ellipse cx="160.2" cy="730.1" rx="2.0" ry="1.6" transform="rotate(56 160.2 730.1)" fill="#707070" stroke="#a6a6a6"/>
<ellipse cx="158.1" cy="717.4" rx="2.0" ry="1.4" transform="rotate(88 158.1 717.4)" fill="#707070" stroke="#e0e0e0"/>
<ellipse cx="160.2" cy="734.7" rx="2.4" ry="1.4" transform="rotate(43 160.2 734.7)" fill="#7c7c7c" stroke="#a6a6a6"/>
<ellipse cx="179.9" cy="745.9" rx="2.5" ry="2.0" transform="rotate(13 179.9 745.9)" fill="#767676" stroke="#bcbcbc"/>
<ellipse cx="197.5" cy="734.6" rx="2.4" ry="1.6" transform="rotate(12 197.5 734.6)" fill="#7c7c7c" stroke="#b0b0b0"/>
<ellipse cx="192.8" cy="740.2" rx="2.6" ry="1.1" transform="rotate(148 192.8 740.2)" fill="#767676" stroke="#c8c8c8"/>
<ellipse cx="191.8" cy="735.8" rx="3.2" ry="1.5" transform="rotate(170 191.8 735.8)" fill="#707070" stroke="#bcbcbc"/>
<ellipse cx="194.8" cy="746.1" rx="1.9" ry="1.5" transform="rotate(96 194.8 746.1)" fill="#707070" stroke="#b0b0b0"/>
<ellipse cx="189.4" cy="740.9" rx="2.3" ry="1.5" transform="rotate(107 189.4 740.9)" fill="#767676" stroke="#a6a6a6"/>
<ellipse cx="180.4" cy="744.2" rx="2.9" ry="1.1" transform="rotate(11 180.4 744.2)" fill="#707070" stroke="#b0b0b0"/>
<ellipse cx="181.7" cy="741.5" rx="2.4" ry="1.1" transform="rotate(26 181.7 741.5)" fill="#7c7c7c" stroke="#b0b0b0"/>
<ellipse cx="186.8" cy="751.1" rx="3.2" ry="1.5" transform="rotate(47 186.8 751.1)" fill="#7c7c7c" stroke="#bcbcbc"/>
<ellipse cx="190.2" cy="749.9" rx="2.2" ry="1.2" transform="rotate(143 190.2 749.9)" fill="#707070" stroke="#a6a6a6"/>
<ellipse cx="189.9" cy="741.1" rx="2.0" ry="1.5" transform="rotate(140 189.9 741.1)" fill="#767676" stroke="#e0e0e0"/>
<ellipse cx="195.7" cy="741.2" rx="1.8" ry="1.6" transform="rotate(134 195.7 741.2)" fill="#7c7c7c" stroke="#c8c8c8"/>
<ellipse cx="201.2" cy="740.6" rx="1.9" ry="2.0" transform="rotate(146 201.2 740.6)" fill="#707070" stroke="#a6a6a6"/>
<ellipse cx="198.8" cy="735.7" rx="2.8" ry="1.3" transform="rotate(111 198.8 735.7)" fill="#707070" stroke="#e0e0e0"/>
<ellipse cx="183.9" cy="745.4" rx="2.4" ry="1.8" transform="rotate(74 183.9 745.4)" fill="#7c7c7c" stroke="#b0b0b0"/>
<ellipse cx="183.8" cy="749.6" rx="2.0" ry="1.2" transform="rotate(140 183.8 749.6)" fill="#7c7c7c" stroke="#b0b0b0"/>
<ellipse cx="194.3" cy="742.0" rx="3.2" ry="1.6" transform="rotate(13 194.3 742.0)" fill="#767676" stroke="#bcbcbc"/>
<ellipse cx="200.1" cy="738.8" rx="2.6" ry="1.3" transform="rotate(24 200.1 738.8)" fill="#707070" stroke="#b0b0b0"/>
<ellipse cx="187.0" cy="731.4" rx="2.1" ry="1.3" transform="rotate(32 187.0 731.4)" fill="#7c7c7c" stroke="#a6a6a6"/>
<ellipse cx="179.7" cy="739.9" rx="3.1" ry="1.3" transform="rotate(33 179.7 739.9)" fill="#7c7c7c" stroke="#b0b0b0"/>
<ellipse cx="179.8" cy="744.8" rx="2.3" ry="1.5" transform="rotate(165 179.8 744.8)" fill="#7c7c7c" stroke="#a6a6a6"/>
<ellipse cx="196.7" cy="712.2" rx="2.5" ry="1.8" transform="rotate(88 196.7 712.2)" fill="#707070" stroke="#a6a6a6"/>
<ellipse cx="186.5" cy="707.6" rx="3.1" ry="2.0" transform="rotate(43 186.5 707.6)" fill="#7c7c7c" stroke="#b0b0b0"/>
<ellipse cx="186.9" cy="712.9" rx="3.0" ry="1.4" transform="rotate(178 186.9 712.9)" fill="#767676" stroke="#b0b0b0"/>
<ellipse cx="197.0" cy="709.5" rx="2.1" ry="1.5" transform="rotate(91 197.0 709.5)" fill="#707070" stroke="#a6a6a6"/>
<ellipse cx="192.7" cy="711.4" rx="1.8" ry="1.3" transform="rotate(175 192.7 711.4)" fill="#7c7c7c" stroke="#b0b0b0"/>
<ellipse cx="195.6" cy="706.8" rx="2.1" ry="1.8" transform="rotate(21 195.6 706.8)" fill="#707070" stroke="#c8c8c8"/>
<ellipse cx="188.3" cy="713.4" rx="2.3" ry="1.7" transform="rotate(39 188.3 713.4)" fill="#767676" stroke="#e0e0e0"/>
<ellipse cx="194.8" cy="712.5" rx="1.9" ry="1.5" transform="rotate(148 194.8 712.5)" fill="#7c7c7c" stroke="#b0b0b0"/>
<ellipse cx="106.4" cy="733.6" rx="3.1" ry="1.2" transform="rotate(19 106.4 733.6)" fill="#707070" stroke="#b0b0b0"/>
<ellipse cx="108.4" cy="727.7" rx="3.0" ry="1.1" transform="rotate(85 108.4 727.7)" fill="#707070" stroke="#e0e0e0"/>
<ellipse cx="111.8" cy="733.5" rx="2.5" ry="2.0" transform="rotate(108 111.8 733.5)" fill="#767676" stroke="#b0b0b0"/>
<ellipse cx="104.9" cy="729.8" rx="2.8" ry="1.4" transform="rotate(139 104.9 729.8)" fill="#7c7c7c" stroke="#a6a6a6"/>
<ellipse cx="103.3" cy="725.3" rx="2.0" ry="1.9" transform="rotate(64 103.3 725.3)" fill="#7c7c7c" stroke="#a6a6a6"/>
<ellipse cx="102.2" cy="725.5" rx="3.1" ry="1.2" transform="rotate(86 102.2 725.5)" fill="#7c7c7c" stroke="#b0b0b0"/>
<ellipse cx="103.0" cy="731.7" rx="2.9" ry="1.4" transform="rotate(175 103.0 731.7)" fill="#707070" stroke="#e0e0e0"/>
<ellipse cx="105.8" cy="725.0" rx="2.4" ry="1.9" transform="rotate(62 105.8 725.0)" fill="#767676" stroke="#a6a6a6"/>
<ellipse cx="158.2" cy="748.5" rx="3.1" ry="1.3" transform="rotate(156 158.2 748.5)" fill="#767676" stroke="#e0e0e0"/>
<ellipse cx="154.9" cy="755.2" rx="3.2" ry="1.9" transform="rotate(52 154.9 755.2)" fill="#707070" stroke="#e0e0e0"/>
<ellipse cx="154.9" cy="754.6" rx="3.1" ry="1.8" transform="rotate(19 154.9 754.6)" fill="#767676" stroke="#a6a6a6"/>
<ellipse cx="152.8" cy="752.2" rx="2.8" ry="2.0" transform="rotate(16 152.8 752.2)" fill="#7c7c7c" stroke="#e0e0e0"/>
<ellipse cx="156.1" cy="755.0" rx="2.2" ry="1.6" transform="rotate(89 156.1 755.0)" fill="#707070" stroke="#b0b0b0"/>
<ellipse cx="161.1" cy="748.0" rx="2.1" ry="1.7" transform="rotate(139 161.1 748.0)" fill="#767676" stroke="#c8c8c8"/>
<ellipse cx="161.8" cy="756.0" rx="3.0" ry="1.5" transform="rotate(39 161.8 756.0)" fill="#767676" stroke="#b0b0b0"/>
<ellipse cx="163.7" cy="755.8" rx="2.5" ry="1.2" transform="rotate(127 163.7 755.8)" fill="#767676" stroke="#bcbcbc"/>
<ellipse cx="158.0" cy="757.5" rx="2.6" ry="1.8" transform="rotate(75 158.0 757.5)" fill="#707070" stroke="#b0b0b0"/>
<ellipse cx="127.2" cy="761.7" rx="3.2" ry="1.7" transform="rotate(87 127.2 761.7)" fill="#767676" stroke="#c8c8c8"/>
<ellipse cx="123.5" cy="761.5" rx="2.2" ry="1.5" transform="rotate(97 123.5 761.5)" fill="#767676" stroke="#c8c8c8"/>
<ellipse cx="123.7" cy="762.8" rx="2.1" ry="1.6" transform="rotate(117 123.7 762.8)" fill="#7c7c7c" stroke="#bcbcbc"/>
<ellipse cx="124.8" cy="767.7" rx="2.0" ry="1.8" transform="rotate(177 124.8 767.7)" fill="#767676" stroke="#e0e0e0"/>
<ellipse cx="133.8" cy="768.3" rx="2.9" ry="1.8" transform="rotate(32 133.8 768.3)" fill="#707070" stroke="#b0b0b0"/>
<ellipse cx="136.3" cy="763.1" rx="3.2" ry="1.2" transform="rotate(55 136.3 763.1)" fill="#7c7c7c" stroke="#e0e0e0"/>
<ellipse cx="133.2" cy="763.4" rx="3.1" ry="1.9" transform="rotate(137 133.2 763.4)" fill="#767676" stroke="#c8c8c8"/>
<ellipse cx="123.6" cy="758.5" rx="3.1" ry="1.8" transform="rotate(126 123.6 758.5)" fill="#767676" stroke="#bcbcbc"/>
<ellipse cx="128.4" cy="766.8" rx="2.9" ry="1.9" transform="rotate(156 128.4 766.8)" fill="#707070" stroke="#c8c8c8"/>
<ellipse cx="99.0" cy="750.8" rx="2.7" ry="1.6" transform="rotate(25 99.0 750.8)" fill="#767676" stroke="#c8c8c8"/>
<ellipse cx="101.6" cy="752.9" rx="3.1" ry="1.3" transform="rotate(148 101.6 752.9)" fill="#7c7c7c" stroke="#a6a6a6"/>
<ellipse cx="106.7" cy="746.8" rx="2.0" ry="1.4" transform="rotate(18 106.7 746.8)" fill="#7c7c7c" stroke="#a6a6a6"/>
<ellipse cx="100.4" cy="754.2" rx="2.4" ry="1.2" transform="rotate(83 100.4 754.2)" fill="#7c7c7c" stroke="#c8c8c8"/>
<ellipse cx="108.0" cy="750.1" rx="2.9" ry="1.7" transform="rotate(150 108.0 750.1)" fill="#767676" stroke="#b0b0b0"/>
<ellipse cx="157.6" cy="697.3" rx="2.0" ry="1.4" transform="rotate(1 157.6 697.3)" fill="#707070" stroke="#a6a6a6"/>
<ellipse cx="156.5" cy="695.9" rx="3.1" ry="1.5" transform="rotate(85 156.5 695.9)" fill="#707070" stroke="#e0e0e0"/>
<ellipse cx="156.2" cy="701.0" rx="1.8" ry="1.8" transform="rotate(108 156.2 701.0)" fill="#707070" stroke="#e0e0e0"/>
<ellipse cx="158.4" cy="699.9" rx="3.1" ry="1.2" transform="rotate(133 158.4 699.9)" fill="#707070" stroke="#b0b0b0"/>
<ellipse cx="203.8" cy="701.6" rx="1.9" ry="1.4" transform="rotate(125 203.8 701.6)" fill="#767676" stroke="#a6a6a6"/>
<ellipse cx="202.2" cy="698.6" rx="2.5" ry="1.8" transform="rotate(156 202.2 698.6)" fill="#707070" stroke="#bcbcbc"/>
</g></g>
<g filter="url(#bl2)" mask="url(#mk14)">
<circle cx="201.3" cy="748.3" r="1.3" fill="#e4e4e4"/>
<circle cx="126.4" cy="711.4" r="1.0" fill="#e4e4e4"/>
<circle cx="183.6" cy="714.7" r="1.1" fill="#e4e4e4"/>
<circle cx="140.8" cy="711.5" r="1.1" fill="#e4e4e4"/>
<circle cx="171.2" cy="695.7" r="1.1" fill="#e4e4e4"/>
<circle cx="125.9" cy="760.0" r="1.4" fill="#e4e4e4"/>
<circle cx="193.8" cy="759.0" r="1.3" fill="#e4e4e4"/>
<circle cx="127.5" cy="734.5" r="1.4" fill="#e4e4e4"/>
</g>
<rect x="207.2" y="688.3" width="110.1" height="82.0" fill="#868686"/>
<g filter="url(#bl2)">
<circle cx="262.5" cy="695.5" r="2.1" fill="#8e8e8e" stroke="#cfcfcf" stroke-width="0.7"/>
<circle cx="235.8" cy="697.0" r="1.9" fill="#8e8e8e" stroke="#cfcfcf" stroke-width="0.7"/>
<circle cx="241.2" cy="692.0" r="2.1" fill="#8e8e8e" stroke="#cfcfcf" stroke-width="0.7"/>
<circle cx="290.0" cy="695.5" r="2.9" fill="#a2a2a2" opacity="0.6"/>
<circle cx="290.0" cy="695.5" r="1.6" fill="#ffffff"/>
<circle cx="309.2" cy="698.8" r="3.0" fill="#a2a2a2" opacity="0.6"/>
<circle cx="309.2" cy="698.8" r="1.6" fill="#ffffff"/>
<circle cx="309.2" cy="708.8" r="2.6" fill="#a2a2a2" opacity="0.6"/>
<circle cx="309.2" cy="708.8" r="1.2" fill="#e6e6e6"/>
<circle cx="223.8" cy="706.2" r="2.1" fill="#8e8e8e" stroke="#cfcfcf" stroke-width="0.7"/>
<circle cx="227.5" cy="710.0" r="2.6" fill="#a2a2a2" opacity="0.6"/>
<circle cx="227.5" cy="710.0" r="1.3" fill="#ffffff"/>
<circle cx="212.5" cy="712.0" r="3.0" fill="#a2a2a2" opacity="0.6"/>
<circle cx="212.5" cy="712.0" r="1.6" fill="#e6e6e6"/>
<circle cx="248.8" cy="707.0" r="2.7" fill="#a2a2a2" opacity="0.6"/>
<circle cx="248.8" cy="707.0" r="1.4" fill="#dcdcdc"/>
<circle cx="260.0" cy="712.0" r="2.4" fill="#a2a2a2" opacity="0.6"/>
<circle cx="260.0" cy="712.0" r="1.1" fill="#ffffff"/>
<circle cx="253.8" cy="716.2" r="2.7" fill="#a2a2a2" opacity="0.6"/>
<circle cx="253.8" cy="716.2" r="1.3" fill="#dcdcdc"/>
<circle cx="276.2" cy="708.8" r="2.6" fill="#a2a2a2" opacity="0.6"/>
<circle cx="276.2" cy="708.8" r="1.3" fill="#f2f2f2"/>
<circle cx="290.0" cy="713.0" r="2.7" fill="#a2a2a2" opacity="0.6"/>
<circle cx="290.0" cy="713.0" r="1.4" fill="#f2f2f2"/>
<circle cx="266.2" cy="722.0" r="2.5" fill="#a2a2a2" opacity="0.6"/>
<circle cx="266.2" cy="722.0" r="1.2" fill="#f2f2f2"/>
<circle cx="278.8" cy="722.0" r="2.6" fill="#a2a2a2" opacity="0.6"/>
<circle cx="278.8" cy="722.0" r="1.3" fill="#f2f2f2"/>
<circle cx="218.8" cy="723.8" r="2.9" fill="#a2a2a2" opacity="0.6"/>
<circle cx="218.8" cy="723.8" r="1.6" fill="#f2f2f2"/>
<circle cx="223.8" cy="728.8" r="2.7" fill="#a2a2a2" opacity="0.6"/>
<circle cx="223.8" cy="728.8" r="1.3" fill="#ffffff"/>
<circle cx="213.8" cy="735.0" r="2.6" fill="#a2a2a2" opacity="0.6"/>
<circle cx="213.8" cy="735.0" r="1.3" fill="#e6e6e6"/>
<circle cx="243.8" cy="733.8" r="2.7" fill="#a2a2a2" opacity="0.6"/>
<circle cx="243.8" cy="733.8" r="1.4" fill="#f2f2f2"/>
<circle cx="270.0" cy="735.0" r="2.5" fill="#a2a2a2" opacity="0.6"/>
<circle cx="270.0" cy="735.0" r="1.2" fill="#ffffff"/>
<circle cx="286.2" cy="736.2" r="2.9" fill="#a2a2a2" opacity="0.6"/>
<circle cx="286.2" cy="736.2" r="1.6" fill="#dcdcdc"/>
<circle cx="300.0" cy="730.0" r="2.9" fill="#a2a2a2" opacity="0.6"/>
<circle cx="300.0" cy="730.0" r="1.5" fill="#ffffff"/>
<circle cx="303.8" cy="738.8" r="1.8" fill="#8e8e8e" stroke="#cfcfcf" stroke-width="0.7"/>
<circle cx="315.0" cy="733.8" r="2.7" fill="#a2a2a2" opacity="0.6"/>
<circle cx="315.0" cy="733.8" r="1.4" fill="#ffffff"/>
<circle cx="210.0" cy="746.2" r="3.0" fill="#a2a2a2" opacity="0.6"/>
<circle cx="210.0" cy="746.2" r="1.6" fill="#ffffff"/>
<circle cx="225.0" cy="747.5" r="2.4" fill="#a2a2a2" opacity="0.6"/>
<circle cx="225.0" cy="747.5" r="1.1" fill="#f2f2f2"/>
<circle cx="235.0" cy="743.8" r="2.1" fill="#8e8e8e" stroke="#cfcfcf" stroke-width="0.7"/>
<circle cx="232.5" cy="755.0" r="2.7" fill="#a2a2a2" opacity="0.6"/>
<circle cx="232.5" cy="755.0" r="1.4" fill="#dcdcdc"/>
<circle cx="241.2" cy="752.5" r="1.9" fill="#8e8e8e" stroke="#cfcfcf" stroke-width="0.7"/>
<circle cx="266.2" cy="750.0" r="3.3" fill="#a2a2a2" opacity="0.6"/>
<circle cx="266.2" cy="750.0" r="1.8" fill="#dcdcdc"/>
<circle cx="255.0" cy="757.0" r="2.5" fill="#a2a2a2" opacity="0.6"/>
<circle cx="255.0" cy="757.0" r="1.2" fill="#dcdcdc"/>
<circle cx="270.0" cy="757.5" r="2.8" fill="#a2a2a2" opacity="0.6"/>
<circle cx="270.0" cy="757.5" r="1.5" fill="#f2f2f2"/>
<circle cx="217.5" cy="762.5" r="2.2" fill="#8e8e8e" stroke="#cfcfcf" stroke-width="0.7"/>
<circle cx="225.0" cy="762.5" r="2.9" fill="#a2a2a2" opacity="0.6"/>
<circle cx="225.0" cy="762.5" r="1.5" fill="#dcdcdc"/>
<circle cx="282.5" cy="742.5" r="2.6" fill="#a2a2a2" opacity="0.6"/>
<circle cx="282.5" cy="742.5" r="1.3" fill="#ffffff"/>
<circle cx="295.0" cy="756.2" r="2.8" fill="#a2a2a2" opacity="0.6"/>
<circle cx="295.0" cy="756.2" r="1.4" fill="#f2f2f2"/>
<circle cx="287.5" cy="761.2" r="2.9" fill="#a2a2a2" opacity="0.6"/>
<circle cx="287.5" cy="761.2" r="1.5" fill="#dcdcdc"/>
<circle cx="305.0" cy="758.8" r="2.4" fill="#a2a2a2" opacity="0.6"/>
<circle cx="305.0" cy="758.8" r="1.1" fill="#ffffff"/>
<circle cx="311.2" cy="762.5" r="2.8" fill="#a2a2a2" opacity="0.6"/>
<circle cx="311.2" cy="762.5" r="1.4" fill="#f2f2f2"/>
<circle cx="297.5" cy="751.2" r="2.5" fill="#a2a2a2" opacity="0.6"/>
<circle cx="297.5" cy="751.2" r="1.2" fill="#ffffff"/>
<circle cx="245.0" cy="750.0" r="2.6" fill="#a2a2a2" opacity="0.6"/>
<circle cx="245.0" cy="750.0" r="1.3" fill="#ffffff"/>
</g>
<rect x="317.3" y="687.2" width="110.7" height="82.2" fill="#8c8c8c"/>
<g filter="url(#bl2)">
<circle cx="404.6" cy="691.5" r="3.7" fill="#a2a2a2" opacity="0.6"/>
<circle cx="404.6" cy="691.5" r="2.2" fill="#dcdcdc"/>
<circle cx="397.9" cy="697.1" r="2.1" fill="#8e8e8e" stroke="#cfcfcf" stroke-width="0.7"/>
<circle cx="418.9" cy="693.7" r="2.9" fill="#a2a2a2" opacity="0.6"/>
<circle cx="418.9" cy="693.7" r="1.5" fill="#e6e6e6"/>
<circle cx="423.4" cy="700.4" r="2.2" fill="#8e8e8e" stroke="#cfcfcf" stroke-width="0.7"/>
<circle cx="409.0" cy="702.6" r="2.6" fill="#a2a2a2" opacity="0.6"/>
<circle cx="409.0" cy="702.6" r="1.3" fill="#e6e6e6"/>
<circle cx="415.6" cy="711.4" r="3.3" fill="#a2a2a2" opacity="0.6"/>
<circle cx="415.6" cy="711.4" r="1.9" fill="#f2f2f2"/>
<circle cx="423.4" cy="712.5" r="2.9" fill="#a2a2a2" opacity="0.6"/>
<circle cx="423.4" cy="712.5" r="1.5" fill="#ffffff"/>
<circle cx="348.2" cy="704.8" r="1.5" fill="#8e8e8e" stroke="#cfcfcf" stroke-width="0.7"/>
<circle cx="344.9" cy="711.4" r="3.1" fill="#a2a2a2" opacity="0.6"/>
<circle cx="344.9" cy="711.4" r="1.7" fill="#dcdcdc"/>
<circle cx="340.4" cy="722.5" r="3.0" fill="#a2a2a2" opacity="0.6"/>
<circle cx="340.4" cy="722.5" r="1.6" fill="#ffffff"/>
<circle cx="331.6" cy="725.8" r="3.0" fill="#a2a2a2" opacity="0.6"/>
<circle cx="331.6" cy="725.8" r="1.6" fill="#ffffff"/>
<circle cx="360.3" cy="720.3" r="2.6" fill="#a2a2a2" opacity="0.6"/>
<circle cx="360.3" cy="720.3" r="1.2" fill="#ffffff"/>
<circle cx="365.9" cy="717.0" r="2.7" fill="#a2a2a2" opacity="0.6"/>
<circle cx="365.9" cy="717.0" r="1.4" fill="#e6e6e6"/>
<circle cx="369.2" cy="718.1" r="3.0" fill="#a2a2a2" opacity="0.6"/>
<circle cx="369.2" cy="718.1" r="1.6" fill="#f2f2f2"/>
<circle cx="372.5" cy="715.9" r="1.7" fill="#8e8e8e" stroke="#cfcfcf" stroke-width="0.7"/>
<circle cx="386.9" cy="712.5" r="2.1" fill="#8e8e8e" stroke="#cfcfcf" stroke-width="0.7"/>
<circle cx="385.8" cy="720.3" r="2.6" fill="#a2a2a2" opacity="0.6"/>
<circle cx="385.8" cy="720.3" r="1.3" fill="#ffffff"/>
<circle cx="391.3" cy="719.2" r="2.6" fill="#a2a2a2" opacity="0.6"/>
<circle cx="391.3" cy="719.2" r="1.3" fill="#f2f2f2"/>
<circle cx="394.6" cy="717.0" r="2.5" fill="#a2a2a2" opacity="0.6"/>
<circle cx="394.6" cy="717.0" r="1.2" fill="#f2f2f2"/>
<circle cx="401.2" cy="715.9" r="2.7" fill="#a2a2a2" opacity="0.6"/>
<circle cx="401.2" cy="715.9" r="1.3" fill="#f2f2f2"/>
<circle cx="405.7" cy="714.8" r="3.0" fill="#a2a2a2" opacity="0.6"/>
<circle cx="405.7" cy="714.8" r="1.6" fill="#f2f2f2"/>
<circle cx="344.9" cy="733.5" r="3.0" fill="#a2a2a2" opacity="0.6"/>
<circle cx="344.9" cy="733.5" r="1.6" fill="#dcdcdc"/>
<circle cx="343.8" cy="744.6" r="3.1" fill="#a2a2a2" opacity="0.6"/>
<circle cx="343.8" cy="744.6" r="1.7" fill="#e6e6e6"/>
<circle cx="405.7" cy="732.4" r="3.5" fill="#a2a2a2" opacity="0.6"/>
<circle cx="405.7" cy="732.4" r="2.0" fill="#f2f2f2"/>
<circle cx="404.6" cy="739.1" r="2.7" fill="#a2a2a2" opacity="0.6"/>
<circle cx="404.6" cy="739.1" r="1.4" fill="#dcdcdc"/>
<circle cx="386.9" cy="744.6" r="3.3" fill="#a2a2a2" opacity="0.6"/>
<circle cx="386.9" cy="744.6" r="1.8" fill="#f2f2f2"/>
<circle cx="381.3" cy="750.1" r="1.6" fill="#8e8e8e" stroke="#cfcfcf" stroke-width="0.7"/>
<circle cx="364.8" cy="742.4" r="1.6" fill="#8e8e8e" stroke="#cfcfcf" stroke-width="0.7"/>
<circle cx="411.2" cy="747.9" r="2.4" fill="#a2a2a2" opacity="0.6"/>
<circle cx="411.2" cy="747.9" r="1.1" fill="#f2f2f2"/>
<circle cx="416.7" cy="757.9" r="2.3" fill="#8e8e8e" stroke="#cfcfcf" stroke-width="0.7"/>
<circle cx="320.5" cy="761.2" r="3.8" fill="#a2a2a2" opacity="0.6"/>
<circle cx="320.5" cy="761.2" r="2.3" fill="#ffffff"/>
<circle cx="341.5" cy="765.6" r="2.8" fill="#a2a2a2" opacity="0.6"/>
<circle cx="341.5" cy="765.6" r="1.5" fill="#e6e6e6"/>
<circle cx="348.2" cy="767.8" r="2.7" fill="#a2a2a2" opacity="0.6"/>
<circle cx="348.2" cy="767.8" r="1.4" fill="#f2f2f2"/>
</g>
<rect x="96.4" y="583.8" width="331.6" height="82.4" fill="none" stroke="#000" stroke-width="1.9"/>
<line x1="207.2" y1="583.8" x2="207.2" y2="666.2" stroke="#000" stroke-width="1.9"/>
<line x1="317.3" y1="583.8" x2="317.3" y2="666.2" stroke="#000" stroke-width="1.9"/>
<rect x="96.4" y="688.3" width="110.8" height="81.3" fill="none" stroke="#000" stroke-width="1.9"/>
<rect x="207.2" y="688.3" width="110.1" height="82.0" fill="none" stroke="#000" stroke-width="1.9"/>
<rect x="317.3" y="687.2" width="110.7" height="82.2" fill="none" stroke="#000" stroke-width="1.9"/>
<text x="119.5" y="580.0" font-size="12" text-anchor="start" textLength="63.0" lengthAdjust="spacingAndGlyphs" stroke="#000" stroke-width="0.45" >Nontreated</text>
<text x="240.0" y="580.0" font-size="12" text-anchor="start" textLength="35.5" lengthAdjust="spacingAndGlyphs" stroke="#000" stroke-width="0.45" >DMSO</text>
<text x="330.0" y="579.7" font-size="12" text-anchor="start" textLength="76.3" lengthAdjust="spacingAndGlyphs" stroke="#000" stroke-width="0.45" >Nicotinamide</text>
<text x="130.0" y="681.8" font-size="12" text-anchor="start" textLength="35.0" lengthAdjust="spacingAndGlyphs" stroke="#000" stroke-width="0.45" >EX527</text>
<text x="228.8" y="681.8" font-size="12" text-anchor="start" textLength="57.5" lengthAdjust="spacingAndGlyphs" stroke="#000" stroke-width="0.45" >Salermide</text>
<text x="350.8" y="681.8" font-size="12" text-anchor="start" textLength="41.0" lengthAdjust="spacingAndGlyphs" stroke="#000" stroke-width="0.45" >Sirtinol</text>
<rect x="0.5" y="0.5" width="519" height="789" fill="none" stroke="#5e5e5e" stroke-width="1"/>
</svg>
</body></html>
